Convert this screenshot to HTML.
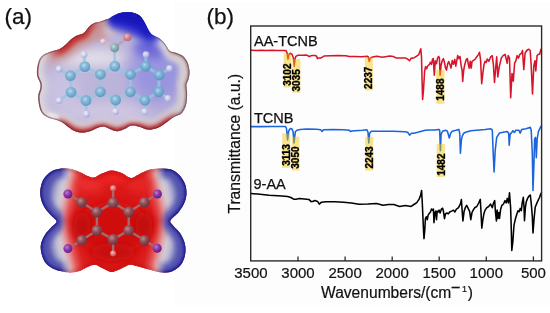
<!DOCTYPE html>
<html><head><meta charset="utf-8"><title>Figure</title>
<style>html,body{margin:0;padding:0;background:#fff;width:550px;height:313px;overflow:hidden}svg{display:block}</style>
</head><body>
<svg width="550" height="313" viewBox="0 0 550 313">
<defs>
<radialGradient id="gC1" cx="0.42" cy="0.38" r="0.66">
<stop offset="0" stop-color="#c0e2f2"/><stop offset="0.3" stop-color="#86bedc"/><stop offset="0.75" stop-color="#62a0c6"/><stop offset="1" stop-color="#4e8cb4"/></radialGradient>
<radialGradient id="gH1" cx="0.38" cy="0.35" r="0.7">
<stop offset="0" stop-color="#f4f4ff"/><stop offset="0.5" stop-color="#d0d0ec"/><stop offset="1" stop-color="#9c9cd0"/></radialGradient>
<radialGradient id="gO1" cx="0.38" cy="0.35" r="0.7">
<stop offset="0" stop-color="#f6c8c8"/><stop offset="0.5" stop-color="#d88080"/><stop offset="1" stop-color="#b06070"/></radialGradient>
<radialGradient id="gCO" cx="0.38" cy="0.35" r="0.7">
<stop offset="0" stop-color="#c8e0dc"/><stop offset="0.5" stop-color="#80aaa8"/><stop offset="1" stop-color="#5e8a90"/></radialGradient>
<radialGradient id="gC2" cx="0.38" cy="0.35" r="0.7">
<stop offset="0" stop-color="#c08a90"/><stop offset="0.45" stop-color="#905058"/><stop offset="1" stop-color="#6a3038"/></radialGradient>
<radialGradient id="gN2" cx="0.38" cy="0.35" r="0.7">
<stop offset="0" stop-color="#b87ad0"/><stop offset="0.5" stop-color="#8a32a8"/><stop offset="1" stop-color="#5e1a7e"/></radialGradient>
<radialGradient id="gH2" cx="0.38" cy="0.35" r="0.7">
<stop offset="0" stop-color="#f8c0c0"/><stop offset="0.6" stop-color="#e07070"/><stop offset="1" stop-color="#c05050"/></radialGradient>

<filter id="b2" x="-20%" y="-20%" width="140%" height="140%"><feGaussianBlur stdDeviation="2"/></filter>
<filter id="b4" x="-30%" y="-30%" width="160%" height="160%"><feGaussianBlur stdDeviation="4"/></filter>
<filter id="b6" x="-30%" y="-30%" width="160%" height="160%"><feGaussianBlur stdDeviation="6"/></filter>
<filter id="b3" x="-30%" y="-30%" width="160%" height="160%"><feGaussianBlur stdDeviation="3"/></filter>
<filter id="b8" x="-40%" y="-40%" width="180%" height="180%"><feGaussianBlur stdDeviation="8"/></filter>
<radialGradient id="lobeUL" gradientUnits="userSpaceOnUse" cx="36.0" cy="186.0" r="34" fx="36.0" fy="186.0"><stop offset="0" stop-color="#10106a"/><stop offset="0.22" stop-color="#1c1c88"/><stop offset="0.42" stop-color="#6a6aae"/><stop offset="0.6" stop-color="#d4d2dc"/><stop offset="0.72" stop-color="#e4a8a8"/><stop offset="0.86" stop-color="#e43030" stop-opacity="0.9"/><stop offset="1" stop-color="#e42626" stop-opacity="0"/></radialGradient>
<radialGradient id="lobeUR" gradientUnits="userSpaceOnUse" cx="190.0" cy="186.0" r="34" fx="190.0" fy="186.0"><stop offset="0" stop-color="#10106a"/><stop offset="0.22" stop-color="#1c1c88"/><stop offset="0.42" stop-color="#6a6aae"/><stop offset="0.6" stop-color="#d4d2dc"/><stop offset="0.72" stop-color="#e4a8a8"/><stop offset="0.86" stop-color="#e43030" stop-opacity="0.9"/><stop offset="1" stop-color="#e42626" stop-opacity="0"/></radialGradient>
<radialGradient id="lobeLL" gradientUnits="userSpaceOnUse" cx="36.0" cy="256.0" r="34" fx="36.0" fy="256.0"><stop offset="0" stop-color="#10106a"/><stop offset="0.22" stop-color="#1c1c88"/><stop offset="0.42" stop-color="#6a6aae"/><stop offset="0.6" stop-color="#d4d2dc"/><stop offset="0.72" stop-color="#e4a8a8"/><stop offset="0.86" stop-color="#e43030" stop-opacity="0.9"/><stop offset="1" stop-color="#e42626" stop-opacity="0"/></radialGradient>
<radialGradient id="lobeLR" gradientUnits="userSpaceOnUse" cx="190.0" cy="256.0" r="34" fx="190.0" fy="256.0"><stop offset="0" stop-color="#10106a"/><stop offset="0.22" stop-color="#1c1c88"/><stop offset="0.42" stop-color="#6a6aae"/><stop offset="0.6" stop-color="#d4d2dc"/><stop offset="0.72" stop-color="#e4a8a8"/><stop offset="0.86" stop-color="#e43030" stop-opacity="0.9"/><stop offset="1" stop-color="#e42626" stop-opacity="0"/></radialGradient>
<radialGradient id="gH1p" cx="0.38" cy="0.35" r="0.7"><stop offset="0" stop-color="#fff0f0"/><stop offset="0.5" stop-color="#e8c8cc"/><stop offset="1" stop-color="#c09aa8"/></radialGradient>
<filter id="b1" x="-20%" y="-20%" width="140%" height="140%"><feGaussianBlur stdDeviation="1"/></filter>
<clipPath id="cm1"><path d="M37.2,68.1 C37.5,65.5 38.2,62.4 39.0,60.4 C39.8,58.4 40.8,57.2 42.0,56.0 C43.2,54.8 44.6,54.1 46.4,53.3 C48.2,52.5 50.7,51.7 52.8,51.0 C54.9,50.3 57.3,50.1 59.2,49.3 C61.1,48.5 62.4,47.4 64.0,46.1 C65.6,44.8 67.2,42.9 68.8,41.4 C70.4,39.9 71.9,38.5 73.5,37.4 C75.1,36.3 76.7,35.7 78.3,35.0 C79.9,34.3 81.8,34.2 83.1,33.4 C84.4,32.6 85.2,31.4 86.3,30.2 C87.4,29.0 88.2,27.4 89.5,26.2 C90.8,25.0 92.4,23.8 94.3,23.0 C96.2,22.2 98.8,22.0 100.7,21.4 C102.6,20.8 104.1,20.2 105.7,19.6 C107.3,19.0 108.6,18.6 110.1,17.9 C111.5,17.2 112.7,16.1 114.4,15.3 C116.1,14.5 118.2,13.4 120.1,12.9 C122.0,12.4 124.0,12.3 125.9,12.2 C127.8,12.1 129.7,12.2 131.6,12.5 C133.5,12.8 135.7,13.4 137.4,14.3 C139.1,15.2 140.4,16.3 141.7,17.9 C143.0,19.5 144.2,21.8 145.3,23.7 C146.4,25.6 147.2,27.7 148.2,29.4 C149.1,31.1 149.9,32.6 151.0,33.7 C152.1,34.8 153.3,35.2 154.6,35.9 C155.9,36.6 157.5,37.1 158.9,38.1 C160.3,39.1 161.9,40.3 163.2,41.7 C164.5,43.1 165.7,45.2 166.8,46.7 C167.9,48.2 168.3,49.9 169.9,51.0 C171.5,52.1 174.3,52.2 176.6,53.1 C178.8,54.0 181.5,54.8 183.4,56.5 C185.3,58.2 186.8,60.6 187.8,63.2 C188.8,65.8 189.4,69.4 189.5,72.0 C189.6,74.6 189.0,76.8 188.5,79.0 C188.0,81.2 186.6,82.5 186.4,85.0 C186.2,87.5 187.2,90.5 187.1,93.7 C187.0,97.0 187.0,101.3 186.1,104.5 C185.2,107.7 183.7,110.9 181.8,112.9 C179.9,114.9 177.2,114.9 174.6,116.5 C172.0,118.1 169.0,120.5 166.2,122.4 C163.4,124.3 160.9,126.5 157.9,127.7 C154.9,128.9 151.5,129.8 148.3,129.6 C145.1,129.4 141.5,127.2 138.7,126.5 C135.9,125.8 133.9,125.1 131.5,125.5 C129.1,125.9 126.8,128.1 124.4,129.0 C122.0,129.9 119.6,131.2 117.2,131.2 C114.8,131.2 112.2,129.8 109.9,129.0 C107.6,128.2 105.6,126.7 103.5,126.5 C101.4,126.3 99.2,127.2 97.1,128.0 C95.0,128.8 93.1,130.2 90.7,131.0 C88.3,131.8 85.4,132.6 82.7,132.6 C80.0,132.6 77.1,131.9 74.7,131.0 C72.3,130.1 70.4,128.4 68.3,127.0 C66.2,125.5 64.1,123.5 62.0,122.3 C59.9,121.1 57.7,120.5 55.6,119.8 C53.5,119.1 51.3,119.0 49.2,118.0 C47.1,117.0 44.4,115.7 42.8,114.0 C41.2,112.3 40.4,110.5 39.6,107.6 C38.8,104.6 38.1,99.5 38.2,96.3 C38.3,93.1 39.9,90.7 40.3,88.6 C40.6,86.5 40.8,85.6 40.3,83.5 C39.8,81.4 37.7,78.4 37.2,75.8 C36.7,73.2 36.9,70.7 37.2,68.1Z"/></clipPath>
<clipPath id="cm2"><path d="M40.5,188.8 C41.0,185.6 41.8,182.1 43.6,179.2 C45.4,176.3 48.4,173.3 51.3,171.5 C54.2,169.7 57.8,168.9 60.9,168.5 C64.0,168.1 66.9,168.2 70.0,168.8 C73.1,169.4 76.7,170.8 79.6,172.0 C82.5,173.2 85.2,175.1 87.6,176.0 C90.0,176.9 91.6,178.0 94.0,177.6 C96.4,177.2 99.0,174.8 101.9,173.6 C104.8,172.4 108.3,170.5 111.5,170.4 C114.7,170.3 117.9,171.6 121.1,172.8 C124.3,174.1 127.8,177.6 130.7,177.9 C133.6,178.2 135.5,175.8 138.7,174.4 C141.9,173.0 146.0,170.6 149.8,169.6 C153.6,168.6 157.9,168.5 161.5,168.5 C165.1,168.5 168.3,168.6 171.2,169.6 C174.1,170.6 176.6,172.3 178.8,174.6 C181.0,176.8 183.3,180.1 184.6,183.1 C185.9,186.1 186.5,189.5 186.5,192.7 C186.5,195.9 185.9,199.1 184.6,202.3 C183.3,205.5 181.2,208.9 178.8,211.9 C176.5,214.9 171.4,218.2 170.5,220.5 C169.6,222.8 171.5,223.3 173.1,225.4 C174.7,227.5 178.1,230.2 180.0,233.1 C181.9,236.0 183.7,239.5 184.6,242.7 C185.5,245.9 185.7,249.1 185.4,252.3 C185.1,255.5 184.1,259.2 182.7,261.9 C181.3,264.6 179.2,266.8 176.9,268.5 C174.7,270.2 172.1,271.7 169.2,272.3 C166.3,272.9 162.8,272.7 159.6,272.3 C156.4,271.9 153.8,270.8 150.0,269.8 C146.2,268.8 140.4,267.1 137.1,266.3 C133.8,265.5 132.6,264.4 129.9,264.8 C127.2,265.2 124.2,267.5 121.1,268.7 C118.0,269.9 114.7,272.0 111.5,271.9 C108.3,271.8 104.7,269.2 101.9,268.0 C99.1,266.8 97.2,264.9 94.8,264.8 C92.4,264.7 90.1,266.1 87.6,267.1 C85.1,268.2 82.2,270.2 79.6,271.1 C77.0,272.0 74.5,272.5 72.0,272.6 C69.5,272.8 67.6,272.5 64.8,272.0 C62.0,271.5 58.3,271.0 55.2,269.6 C52.1,268.2 48.5,266.4 46.3,263.8 C44.0,261.2 42.6,257.4 41.7,254.2 C40.8,251.0 40.4,247.8 40.9,244.6 C41.4,241.4 43.1,237.9 44.8,235.0 C46.5,232.1 49.3,229.6 51.3,227.3 C53.2,225.1 56.5,223.4 56.5,221.5 C56.5,219.6 53.2,218.0 51.3,215.8 C49.3,213.6 46.5,211.0 44.8,208.1 C43.1,205.2 41.6,201.7 40.9,198.5 C40.2,195.3 40.0,192.0 40.5,188.8Z"/></clipPath>
<filter id="b5m" x="-50%" y="-50%" width="200%" height="200%"><feGaussianBlur stdDeviation="5"/></filter>
<mask id="mkTL" maskUnits="userSpaceOnUse" x="0" y="0" width="200" height="160"><polygon points="46,30 50,68 70,62 95,48 112,36 118,24 118,0 46,0" fill="#fff" filter="url(#b5m)"/></mask>
<mask id="mkTL2" maskUnits="userSpaceOnUse" x="0" y="0" width="200" height="160"><polygon points="52,30 56,62 64,58 78,50 90,42 94,30 94,0 52,0" fill="#fff" filter="url(#b5m)"/></mask>
<filter id="b25" x="-10%" y="-10%" width="120%" height="120%"><feGaussianBlur stdDeviation="2.5"/></filter>
<filter id="b05" x="-10%" y="-10%" width="120%" height="120%"><feGaussianBlur stdDeviation="0.6"/></filter>
<mask id="mkBT" maskUnits="userSpaceOnUse" x="0" y="0" width="200" height="160"><polygon points="60,116 72,120 110,123 150,120 178,110 190,118 190,150 58,150" fill="#fff" filter="url(#b5m)"/></mask>
<mask id="mkLF" maskUnits="userSpaceOnUse" x="0" y="0" width="200" height="160"><polygon points="20,60 48,60 48,115 20,115" fill="#fff" filter="url(#b5m)"/></mask>
<mask id="mkRT" maskUnits="userSpaceOnUse" x="0" y="0" width="200" height="160"><polygon points="168,48 200,48 200,118 172,118" fill="#fff" filter="url(#b5m)"/></mask>
</defs>
<rect width="550" height="313" fill="#fff"/>
<rect x="174" y="1.8" width="376" height="303.6" fill="#fdfdfd"/>
<g clip-path="url(#cm1)">
<path d="M37.2,68.1 C37.5,65.5 38.2,62.4 39.0,60.4 C39.8,58.4 40.8,57.2 42.0,56.0 C43.2,54.8 44.6,54.1 46.4,53.3 C48.2,52.5 50.7,51.7 52.8,51.0 C54.9,50.3 57.3,50.1 59.2,49.3 C61.1,48.5 62.4,47.4 64.0,46.1 C65.6,44.8 67.2,42.9 68.8,41.4 C70.4,39.9 71.9,38.5 73.5,37.4 C75.1,36.3 76.7,35.7 78.3,35.0 C79.9,34.3 81.8,34.2 83.1,33.4 C84.4,32.6 85.2,31.4 86.3,30.2 C87.4,29.0 88.2,27.4 89.5,26.2 C90.8,25.0 92.4,23.8 94.3,23.0 C96.2,22.2 98.8,22.0 100.7,21.4 C102.6,20.8 104.1,20.2 105.7,19.6 C107.3,19.0 108.6,18.6 110.1,17.9 C111.5,17.2 112.7,16.1 114.4,15.3 C116.1,14.5 118.2,13.4 120.1,12.9 C122.0,12.4 124.0,12.3 125.9,12.2 C127.8,12.1 129.7,12.2 131.6,12.5 C133.5,12.8 135.7,13.4 137.4,14.3 C139.1,15.2 140.4,16.3 141.7,17.9 C143.0,19.5 144.2,21.8 145.3,23.7 C146.4,25.6 147.2,27.7 148.2,29.4 C149.1,31.1 149.9,32.6 151.0,33.7 C152.1,34.8 153.3,35.2 154.6,35.9 C155.9,36.6 157.5,37.1 158.9,38.1 C160.3,39.1 161.9,40.3 163.2,41.7 C164.5,43.1 165.7,45.2 166.8,46.7 C167.9,48.2 168.3,49.9 169.9,51.0 C171.5,52.1 174.3,52.2 176.6,53.1 C178.8,54.0 181.5,54.8 183.4,56.5 C185.3,58.2 186.8,60.6 187.8,63.2 C188.8,65.8 189.4,69.4 189.5,72.0 C189.6,74.6 189.0,76.8 188.5,79.0 C188.0,81.2 186.6,82.5 186.4,85.0 C186.2,87.5 187.2,90.5 187.1,93.7 C187.0,97.0 187.0,101.3 186.1,104.5 C185.2,107.7 183.7,110.9 181.8,112.9 C179.9,114.9 177.2,114.9 174.6,116.5 C172.0,118.1 169.0,120.5 166.2,122.4 C163.4,124.3 160.9,126.5 157.9,127.7 C154.9,128.9 151.5,129.8 148.3,129.6 C145.1,129.4 141.5,127.2 138.7,126.5 C135.9,125.8 133.9,125.1 131.5,125.5 C129.1,125.9 126.8,128.1 124.4,129.0 C122.0,129.9 119.6,131.2 117.2,131.2 C114.8,131.2 112.2,129.8 109.9,129.0 C107.6,128.2 105.6,126.7 103.5,126.5 C101.4,126.3 99.2,127.2 97.1,128.0 C95.0,128.8 93.1,130.2 90.7,131.0 C88.3,131.8 85.4,132.6 82.7,132.6 C80.0,132.6 77.1,131.9 74.7,131.0 C72.3,130.1 70.4,128.4 68.3,127.0 C66.2,125.5 64.1,123.5 62.0,122.3 C59.9,121.1 57.7,120.5 55.6,119.8 C53.5,119.1 51.3,119.0 49.2,118.0 C47.1,117.0 44.4,115.7 42.8,114.0 C41.2,112.3 40.4,110.5 39.6,107.6 C38.8,104.6 38.1,99.5 38.2,96.3 C38.3,93.1 39.9,90.7 40.3,88.6 C40.6,86.5 40.8,85.6 40.3,83.5 C39.8,81.4 37.7,78.4 37.2,75.8 C36.7,73.2 36.9,70.7 37.2,68.1Z" fill="#bcb5da"/>
<ellipse cx="62" cy="92" rx="18" ry="24" fill="#cac2e2" filter="url(#b8)"/>
<ellipse cx="92" cy="58" rx="36" ry="9" fill="#e2dee8" filter="url(#b6)"/>
<ellipse cx="105" cy="112" rx="45" ry="9" fill="#d0c8e2" filter="url(#b6)"/>
<ellipse cx="158" cy="72" rx="28" ry="32" fill="#9894de" filter="url(#b8)"/>
<ellipse cx="152" cy="48" rx="18" ry="10" fill="#6e6ad8" filter="url(#b4)"/>
<path d="M37.2,68.1 C37.5,65.5 38.2,62.4 39.0,60.4 C39.8,58.4 40.8,57.2 42.0,56.0 C43.2,54.8 44.6,54.1 46.4,53.3 C48.2,52.5 50.7,51.7 52.8,51.0 C54.9,50.3 57.3,50.1 59.2,49.3 C61.1,48.5 62.4,47.4 64.0,46.1 C65.6,44.8 67.2,42.9 68.8,41.4 C70.4,39.9 71.9,38.5 73.5,37.4 C75.1,36.3 76.7,35.7 78.3,35.0 C79.9,34.3 81.8,34.2 83.1,33.4 C84.4,32.6 85.2,31.4 86.3,30.2 C87.4,29.0 88.2,27.4 89.5,26.2 C90.8,25.0 92.4,23.8 94.3,23.0 C96.2,22.2 98.8,22.0 100.7,21.4 C102.6,20.8 104.1,20.2 105.7,19.6 C107.3,19.0 108.6,18.6 110.1,17.9 C111.5,17.2 112.7,16.1 114.4,15.3 C116.1,14.5 118.2,13.4 120.1,12.9 C122.0,12.4 124.0,12.3 125.9,12.2 C127.8,12.1 129.7,12.2 131.6,12.5 C133.5,12.8 135.7,13.4 137.4,14.3 C139.1,15.2 140.4,16.3 141.7,17.9 C143.0,19.5 144.2,21.8 145.3,23.7 C146.4,25.6 147.2,27.7 148.2,29.4 C149.1,31.1 149.9,32.6 151.0,33.7 C152.1,34.8 153.3,35.2 154.6,35.9 C155.9,36.6 157.5,37.1 158.9,38.1 C160.3,39.1 161.9,40.3 163.2,41.7 C164.5,43.1 165.7,45.2 166.8,46.7 C167.9,48.2 168.3,49.9 169.9,51.0 C171.5,52.1 174.3,52.2 176.6,53.1 C178.8,54.0 181.5,54.8 183.4,56.5 C185.3,58.2 186.8,60.6 187.8,63.2 C188.8,65.8 189.4,69.4 189.5,72.0 C189.6,74.6 189.0,76.8 188.5,79.0 C188.0,81.2 186.6,82.5 186.4,85.0 C186.2,87.5 187.2,90.5 187.1,93.7 C187.0,97.0 187.0,101.3 186.1,104.5 C185.2,107.7 183.7,110.9 181.8,112.9 C179.9,114.9 177.2,114.9 174.6,116.5 C172.0,118.1 169.0,120.5 166.2,122.4 C163.4,124.3 160.9,126.5 157.9,127.7 C154.9,128.9 151.5,129.8 148.3,129.6 C145.1,129.4 141.5,127.2 138.7,126.5 C135.9,125.8 133.9,125.1 131.5,125.5 C129.1,125.9 126.8,128.1 124.4,129.0 C122.0,129.9 119.6,131.2 117.2,131.2 C114.8,131.2 112.2,129.8 109.9,129.0 C107.6,128.2 105.6,126.7 103.5,126.5 C101.4,126.3 99.2,127.2 97.1,128.0 C95.0,128.8 93.1,130.2 90.7,131.0 C88.3,131.8 85.4,132.6 82.7,132.6 C80.0,132.6 77.1,131.9 74.7,131.0 C72.3,130.1 70.4,128.4 68.3,127.0 C66.2,125.5 64.1,123.5 62.0,122.3 C59.9,121.1 57.7,120.5 55.6,119.8 C53.5,119.1 51.3,119.0 49.2,118.0 C47.1,117.0 44.4,115.7 42.8,114.0 C41.2,112.3 40.4,110.5 39.6,107.6 C38.8,104.6 38.1,99.5 38.2,96.3 C38.3,93.1 39.9,90.7 40.3,88.6 C40.6,86.5 40.8,85.6 40.3,83.5 C39.8,81.4 37.7,78.4 37.2,75.8 C36.7,73.2 36.9,70.7 37.2,68.1Z" fill="none" stroke="#dcd8dc" stroke-width="13" filter="url(#b3)"/>
<ellipse cx="191" cy="82" rx="9" ry="32" fill="#dcd4d8" filter="url(#b4)"/>
<ellipse cx="180" cy="54" rx="12" ry="6" fill="#dccfd0" filter="url(#b3)"/>
<path d="M84,38 C92,35 100,32 110,27" stroke="#d0a4ac" stroke-width="14" fill="none" filter="url(#b4)"/>
<ellipse cx="100" cy="30" rx="10" ry="8" fill="#c49ca4" filter="url(#b3)"/>
<g mask="url(#mkTL)"><path d="M37.2,68.1 C37.5,65.5 38.2,62.4 39.0,60.4 C39.8,58.4 40.8,57.2 42.0,56.0 C43.2,54.8 44.6,54.1 46.4,53.3 C48.2,52.5 50.7,51.7 52.8,51.0 C54.9,50.3 57.3,50.1 59.2,49.3 C61.1,48.5 62.4,47.4 64.0,46.1 C65.6,44.8 67.2,42.9 68.8,41.4 C70.4,39.9 71.9,38.5 73.5,37.4 C75.1,36.3 76.7,35.7 78.3,35.0 C79.9,34.3 81.8,34.2 83.1,33.4 C84.4,32.6 85.2,31.4 86.3,30.2 C87.4,29.0 88.2,27.4 89.5,26.2 C90.8,25.0 92.4,23.8 94.3,23.0 C96.2,22.2 98.8,22.0 100.7,21.4 C102.6,20.8 104.1,20.2 105.7,19.6 C107.3,19.0 108.6,18.6 110.1,17.9 C111.5,17.2 112.7,16.1 114.4,15.3 C116.1,14.5 118.2,13.4 120.1,12.9 C122.0,12.4 124.0,12.3 125.9,12.2 C127.8,12.1 129.7,12.2 131.6,12.5 C133.5,12.8 135.7,13.4 137.4,14.3 C139.1,15.2 140.4,16.3 141.7,17.9 C143.0,19.5 144.2,21.8 145.3,23.7 C146.4,25.6 147.2,27.7 148.2,29.4 C149.1,31.1 149.9,32.6 151.0,33.7 C152.1,34.8 153.3,35.2 154.6,35.9 C155.9,36.6 157.5,37.1 158.9,38.1 C160.3,39.1 161.9,40.3 163.2,41.7 C164.5,43.1 165.7,45.2 166.8,46.7 C167.9,48.2 168.3,49.9 169.9,51.0 C171.5,52.1 174.3,52.2 176.6,53.1 C178.8,54.0 181.5,54.8 183.4,56.5 C185.3,58.2 186.8,60.6 187.8,63.2 C188.8,65.8 189.4,69.4 189.5,72.0 C189.6,74.6 189.0,76.8 188.5,79.0 C188.0,81.2 186.6,82.5 186.4,85.0 C186.2,87.5 187.2,90.5 187.1,93.7 C187.0,97.0 187.0,101.3 186.1,104.5 C185.2,107.7 183.7,110.9 181.8,112.9 C179.9,114.9 177.2,114.9 174.6,116.5 C172.0,118.1 169.0,120.5 166.2,122.4 C163.4,124.3 160.9,126.5 157.9,127.7 C154.9,128.9 151.5,129.8 148.3,129.6 C145.1,129.4 141.5,127.2 138.7,126.5 C135.9,125.8 133.9,125.1 131.5,125.5 C129.1,125.9 126.8,128.1 124.4,129.0 C122.0,129.9 119.6,131.2 117.2,131.2 C114.8,131.2 112.2,129.8 109.9,129.0 C107.6,128.2 105.6,126.7 103.5,126.5 C101.4,126.3 99.2,127.2 97.1,128.0 C95.0,128.8 93.1,130.2 90.7,131.0 C88.3,131.8 85.4,132.6 82.7,132.6 C80.0,132.6 77.1,131.9 74.7,131.0 C72.3,130.1 70.4,128.4 68.3,127.0 C66.2,125.5 64.1,123.5 62.0,122.3 C59.9,121.1 57.7,120.5 55.6,119.8 C53.5,119.1 51.3,119.0 49.2,118.0 C47.1,117.0 44.4,115.7 42.8,114.0 C41.2,112.3 40.4,110.5 39.6,107.6 C38.8,104.6 38.1,99.5 38.2,96.3 C38.3,93.1 39.9,90.7 40.3,88.6 C40.6,86.5 40.8,85.6 40.3,83.5 C39.8,81.4 37.7,78.4 37.2,75.8 C36.7,73.2 36.9,70.7 37.2,68.1Z" fill="none" stroke="#c89498" stroke-width="26" filter="url(#b4)"/></g>
<ellipse cx="110" cy="30" rx="6" ry="6" fill="#d4ccd8" filter="url(#b3)"/>
<g mask="url(#mkTL2)"><path d="M37.2,68.1 C37.5,65.5 38.2,62.4 39.0,60.4 C39.8,58.4 40.8,57.2 42.0,56.0 C43.2,54.8 44.6,54.1 46.4,53.3 C48.2,52.5 50.7,51.7 52.8,51.0 C54.9,50.3 57.3,50.1 59.2,49.3 C61.1,48.5 62.4,47.4 64.0,46.1 C65.6,44.8 67.2,42.9 68.8,41.4 C70.4,39.9 71.9,38.5 73.5,37.4 C75.1,36.3 76.7,35.7 78.3,35.0 C79.9,34.3 81.8,34.2 83.1,33.4 C84.4,32.6 85.2,31.4 86.3,30.2 C87.4,29.0 88.2,27.4 89.5,26.2 C90.8,25.0 92.4,23.8 94.3,23.0 C96.2,22.2 98.8,22.0 100.7,21.4 C102.6,20.8 104.1,20.2 105.7,19.6 C107.3,19.0 108.6,18.6 110.1,17.9 C111.5,17.2 112.7,16.1 114.4,15.3 C116.1,14.5 118.2,13.4 120.1,12.9 C122.0,12.4 124.0,12.3 125.9,12.2 C127.8,12.1 129.7,12.2 131.6,12.5 C133.5,12.8 135.7,13.4 137.4,14.3 C139.1,15.2 140.4,16.3 141.7,17.9 C143.0,19.5 144.2,21.8 145.3,23.7 C146.4,25.6 147.2,27.7 148.2,29.4 C149.1,31.1 149.9,32.6 151.0,33.7 C152.1,34.8 153.3,35.2 154.6,35.9 C155.9,36.6 157.5,37.1 158.9,38.1 C160.3,39.1 161.9,40.3 163.2,41.7 C164.5,43.1 165.7,45.2 166.8,46.7 C167.9,48.2 168.3,49.9 169.9,51.0 C171.5,52.1 174.3,52.2 176.6,53.1 C178.8,54.0 181.5,54.8 183.4,56.5 C185.3,58.2 186.8,60.6 187.8,63.2 C188.8,65.8 189.4,69.4 189.5,72.0 C189.6,74.6 189.0,76.8 188.5,79.0 C188.0,81.2 186.6,82.5 186.4,85.0 C186.2,87.5 187.2,90.5 187.1,93.7 C187.0,97.0 187.0,101.3 186.1,104.5 C185.2,107.7 183.7,110.9 181.8,112.9 C179.9,114.9 177.2,114.9 174.6,116.5 C172.0,118.1 169.0,120.5 166.2,122.4 C163.4,124.3 160.9,126.5 157.9,127.7 C154.9,128.9 151.5,129.8 148.3,129.6 C145.1,129.4 141.5,127.2 138.7,126.5 C135.9,125.8 133.9,125.1 131.5,125.5 C129.1,125.9 126.8,128.1 124.4,129.0 C122.0,129.9 119.6,131.2 117.2,131.2 C114.8,131.2 112.2,129.8 109.9,129.0 C107.6,128.2 105.6,126.7 103.5,126.5 C101.4,126.3 99.2,127.2 97.1,128.0 C95.0,128.8 93.1,130.2 90.7,131.0 C88.3,131.8 85.4,132.6 82.7,132.6 C80.0,132.6 77.1,131.9 74.7,131.0 C72.3,130.1 70.4,128.4 68.3,127.0 C66.2,125.5 64.1,123.5 62.0,122.3 C59.9,121.1 57.7,120.5 55.6,119.8 C53.5,119.1 51.3,119.0 49.2,118.0 C47.1,117.0 44.4,115.7 42.8,114.0 C41.2,112.3 40.4,110.5 39.6,107.6 C38.8,104.6 38.1,99.5 38.2,96.3 C38.3,93.1 39.9,90.7 40.3,88.6 C40.6,86.5 40.8,85.6 40.3,83.5 C39.8,81.4 37.7,78.4 37.2,75.8 C36.7,73.2 36.9,70.7 37.2,68.1Z" fill="none" stroke="#c42c2c" stroke-width="12" filter="url(#b25)"/></g>
<g mask="url(#mkBT)"><path d="M37.2,68.1 C37.5,65.5 38.2,62.4 39.0,60.4 C39.8,58.4 40.8,57.2 42.0,56.0 C43.2,54.8 44.6,54.1 46.4,53.3 C48.2,52.5 50.7,51.7 52.8,51.0 C54.9,50.3 57.3,50.1 59.2,49.3 C61.1,48.5 62.4,47.4 64.0,46.1 C65.6,44.8 67.2,42.9 68.8,41.4 C70.4,39.9 71.9,38.5 73.5,37.4 C75.1,36.3 76.7,35.7 78.3,35.0 C79.9,34.3 81.8,34.2 83.1,33.4 C84.4,32.6 85.2,31.4 86.3,30.2 C87.4,29.0 88.2,27.4 89.5,26.2 C90.8,25.0 92.4,23.8 94.3,23.0 C96.2,22.2 98.8,22.0 100.7,21.4 C102.6,20.8 104.1,20.2 105.7,19.6 C107.3,19.0 108.6,18.6 110.1,17.9 C111.5,17.2 112.7,16.1 114.4,15.3 C116.1,14.5 118.2,13.4 120.1,12.9 C122.0,12.4 124.0,12.3 125.9,12.2 C127.8,12.1 129.7,12.2 131.6,12.5 C133.5,12.8 135.7,13.4 137.4,14.3 C139.1,15.2 140.4,16.3 141.7,17.9 C143.0,19.5 144.2,21.8 145.3,23.7 C146.4,25.6 147.2,27.7 148.2,29.4 C149.1,31.1 149.9,32.6 151.0,33.7 C152.1,34.8 153.3,35.2 154.6,35.9 C155.9,36.6 157.5,37.1 158.9,38.1 C160.3,39.1 161.9,40.3 163.2,41.7 C164.5,43.1 165.7,45.2 166.8,46.7 C167.9,48.2 168.3,49.9 169.9,51.0 C171.5,52.1 174.3,52.2 176.6,53.1 C178.8,54.0 181.5,54.8 183.4,56.5 C185.3,58.2 186.8,60.6 187.8,63.2 C188.8,65.8 189.4,69.4 189.5,72.0 C189.6,74.6 189.0,76.8 188.5,79.0 C188.0,81.2 186.6,82.5 186.4,85.0 C186.2,87.5 187.2,90.5 187.1,93.7 C187.0,97.0 187.0,101.3 186.1,104.5 C185.2,107.7 183.7,110.9 181.8,112.9 C179.9,114.9 177.2,114.9 174.6,116.5 C172.0,118.1 169.0,120.5 166.2,122.4 C163.4,124.3 160.9,126.5 157.9,127.7 C154.9,128.9 151.5,129.8 148.3,129.6 C145.1,129.4 141.5,127.2 138.7,126.5 C135.9,125.8 133.9,125.1 131.5,125.5 C129.1,125.9 126.8,128.1 124.4,129.0 C122.0,129.9 119.6,131.2 117.2,131.2 C114.8,131.2 112.2,129.8 109.9,129.0 C107.6,128.2 105.6,126.7 103.5,126.5 C101.4,126.3 99.2,127.2 97.1,128.0 C95.0,128.8 93.1,130.2 90.7,131.0 C88.3,131.8 85.4,132.6 82.7,132.6 C80.0,132.6 77.1,131.9 74.7,131.0 C72.3,130.1 70.4,128.4 68.3,127.0 C66.2,125.5 64.1,123.5 62.0,122.3 C59.9,121.1 57.7,120.5 55.6,119.8 C53.5,119.1 51.3,119.0 49.2,118.0 C47.1,117.0 44.4,115.7 42.8,114.0 C41.2,112.3 40.4,110.5 39.6,107.6 C38.8,104.6 38.1,99.5 38.2,96.3 C38.3,93.1 39.9,90.7 40.3,88.6 C40.6,86.5 40.8,85.6 40.3,83.5 C39.8,81.4 37.7,78.4 37.2,75.8 C36.7,73.2 36.9,70.7 37.2,68.1Z" fill="none" stroke="#d8ccd0" stroke-width="22" filter="url(#b3)"/></g>
<g mask="url(#mkBT)"><path d="M37.2,68.1 C37.5,65.5 38.2,62.4 39.0,60.4 C39.8,58.4 40.8,57.2 42.0,56.0 C43.2,54.8 44.6,54.1 46.4,53.3 C48.2,52.5 50.7,51.7 52.8,51.0 C54.9,50.3 57.3,50.1 59.2,49.3 C61.1,48.5 62.4,47.4 64.0,46.1 C65.6,44.8 67.2,42.9 68.8,41.4 C70.4,39.9 71.9,38.5 73.5,37.4 C75.1,36.3 76.7,35.7 78.3,35.0 C79.9,34.3 81.8,34.2 83.1,33.4 C84.4,32.6 85.2,31.4 86.3,30.2 C87.4,29.0 88.2,27.4 89.5,26.2 C90.8,25.0 92.4,23.8 94.3,23.0 C96.2,22.2 98.8,22.0 100.7,21.4 C102.6,20.8 104.1,20.2 105.7,19.6 C107.3,19.0 108.6,18.6 110.1,17.9 C111.5,17.2 112.7,16.1 114.4,15.3 C116.1,14.5 118.2,13.4 120.1,12.9 C122.0,12.4 124.0,12.3 125.9,12.2 C127.8,12.1 129.7,12.2 131.6,12.5 C133.5,12.8 135.7,13.4 137.4,14.3 C139.1,15.2 140.4,16.3 141.7,17.9 C143.0,19.5 144.2,21.8 145.3,23.7 C146.4,25.6 147.2,27.7 148.2,29.4 C149.1,31.1 149.9,32.6 151.0,33.7 C152.1,34.8 153.3,35.2 154.6,35.9 C155.9,36.6 157.5,37.1 158.9,38.1 C160.3,39.1 161.9,40.3 163.2,41.7 C164.5,43.1 165.7,45.2 166.8,46.7 C167.9,48.2 168.3,49.9 169.9,51.0 C171.5,52.1 174.3,52.2 176.6,53.1 C178.8,54.0 181.5,54.8 183.4,56.5 C185.3,58.2 186.8,60.6 187.8,63.2 C188.8,65.8 189.4,69.4 189.5,72.0 C189.6,74.6 189.0,76.8 188.5,79.0 C188.0,81.2 186.6,82.5 186.4,85.0 C186.2,87.5 187.2,90.5 187.1,93.7 C187.0,97.0 187.0,101.3 186.1,104.5 C185.2,107.7 183.7,110.9 181.8,112.9 C179.9,114.9 177.2,114.9 174.6,116.5 C172.0,118.1 169.0,120.5 166.2,122.4 C163.4,124.3 160.9,126.5 157.9,127.7 C154.9,128.9 151.5,129.8 148.3,129.6 C145.1,129.4 141.5,127.2 138.7,126.5 C135.9,125.8 133.9,125.1 131.5,125.5 C129.1,125.9 126.8,128.1 124.4,129.0 C122.0,129.9 119.6,131.2 117.2,131.2 C114.8,131.2 112.2,129.8 109.9,129.0 C107.6,128.2 105.6,126.7 103.5,126.5 C101.4,126.3 99.2,127.2 97.1,128.0 C95.0,128.8 93.1,130.2 90.7,131.0 C88.3,131.8 85.4,132.6 82.7,132.6 C80.0,132.6 77.1,131.9 74.7,131.0 C72.3,130.1 70.4,128.4 68.3,127.0 C66.2,125.5 64.1,123.5 62.0,122.3 C59.9,121.1 57.7,120.5 55.6,119.8 C53.5,119.1 51.3,119.0 49.2,118.0 C47.1,117.0 44.4,115.7 42.8,114.0 C41.2,112.3 40.4,110.5 39.6,107.6 C38.8,104.6 38.1,99.5 38.2,96.3 C38.3,93.1 39.9,90.7 40.3,88.6 C40.6,86.5 40.8,85.6 40.3,83.5 C39.8,81.4 37.7,78.4 37.2,75.8 C36.7,73.2 36.9,70.7 37.2,68.1Z" fill="none" stroke="#c46066" stroke-width="10" filter="url(#b2)"/></g>
<g mask="url(#mkBT)"><path d="M37.2,68.1 C37.5,65.5 38.2,62.4 39.0,60.4 C39.8,58.4 40.8,57.2 42.0,56.0 C43.2,54.8 44.6,54.1 46.4,53.3 C48.2,52.5 50.7,51.7 52.8,51.0 C54.9,50.3 57.3,50.1 59.2,49.3 C61.1,48.5 62.4,47.4 64.0,46.1 C65.6,44.8 67.2,42.9 68.8,41.4 C70.4,39.9 71.9,38.5 73.5,37.4 C75.1,36.3 76.7,35.7 78.3,35.0 C79.9,34.3 81.8,34.2 83.1,33.4 C84.4,32.6 85.2,31.4 86.3,30.2 C87.4,29.0 88.2,27.4 89.5,26.2 C90.8,25.0 92.4,23.8 94.3,23.0 C96.2,22.2 98.8,22.0 100.7,21.4 C102.6,20.8 104.1,20.2 105.7,19.6 C107.3,19.0 108.6,18.6 110.1,17.9 C111.5,17.2 112.7,16.1 114.4,15.3 C116.1,14.5 118.2,13.4 120.1,12.9 C122.0,12.4 124.0,12.3 125.9,12.2 C127.8,12.1 129.7,12.2 131.6,12.5 C133.5,12.8 135.7,13.4 137.4,14.3 C139.1,15.2 140.4,16.3 141.7,17.9 C143.0,19.5 144.2,21.8 145.3,23.7 C146.4,25.6 147.2,27.7 148.2,29.4 C149.1,31.1 149.9,32.6 151.0,33.7 C152.1,34.8 153.3,35.2 154.6,35.9 C155.9,36.6 157.5,37.1 158.9,38.1 C160.3,39.1 161.9,40.3 163.2,41.7 C164.5,43.1 165.7,45.2 166.8,46.7 C167.9,48.2 168.3,49.9 169.9,51.0 C171.5,52.1 174.3,52.2 176.6,53.1 C178.8,54.0 181.5,54.8 183.4,56.5 C185.3,58.2 186.8,60.6 187.8,63.2 C188.8,65.8 189.4,69.4 189.5,72.0 C189.6,74.6 189.0,76.8 188.5,79.0 C188.0,81.2 186.6,82.5 186.4,85.0 C186.2,87.5 187.2,90.5 187.1,93.7 C187.0,97.0 187.0,101.3 186.1,104.5 C185.2,107.7 183.7,110.9 181.8,112.9 C179.9,114.9 177.2,114.9 174.6,116.5 C172.0,118.1 169.0,120.5 166.2,122.4 C163.4,124.3 160.9,126.5 157.9,127.7 C154.9,128.9 151.5,129.8 148.3,129.6 C145.1,129.4 141.5,127.2 138.7,126.5 C135.9,125.8 133.9,125.1 131.5,125.5 C129.1,125.9 126.8,128.1 124.4,129.0 C122.0,129.9 119.6,131.2 117.2,131.2 C114.8,131.2 112.2,129.8 109.9,129.0 C107.6,128.2 105.6,126.7 103.5,126.5 C101.4,126.3 99.2,127.2 97.1,128.0 C95.0,128.8 93.1,130.2 90.7,131.0 C88.3,131.8 85.4,132.6 82.7,132.6 C80.0,132.6 77.1,131.9 74.7,131.0 C72.3,130.1 70.4,128.4 68.3,127.0 C66.2,125.5 64.1,123.5 62.0,122.3 C59.9,121.1 57.7,120.5 55.6,119.8 C53.5,119.1 51.3,119.0 49.2,118.0 C47.1,117.0 44.4,115.7 42.8,114.0 C41.2,112.3 40.4,110.5 39.6,107.6 C38.8,104.6 38.1,99.5 38.2,96.3 C38.3,93.1 39.9,90.7 40.3,88.6 C40.6,86.5 40.8,85.6 40.3,83.5 C39.8,81.4 37.7,78.4 37.2,75.8 C36.7,73.2 36.9,70.7 37.2,68.1Z" fill="none" stroke="#b03036" stroke-width="5" filter="url(#b1)"/></g>
<g mask="url(#mkLF)"><path d="M37.2,68.1 C37.5,65.5 38.2,62.4 39.0,60.4 C39.8,58.4 40.8,57.2 42.0,56.0 C43.2,54.8 44.6,54.1 46.4,53.3 C48.2,52.5 50.7,51.7 52.8,51.0 C54.9,50.3 57.3,50.1 59.2,49.3 C61.1,48.5 62.4,47.4 64.0,46.1 C65.6,44.8 67.2,42.9 68.8,41.4 C70.4,39.9 71.9,38.5 73.5,37.4 C75.1,36.3 76.7,35.7 78.3,35.0 C79.9,34.3 81.8,34.2 83.1,33.4 C84.4,32.6 85.2,31.4 86.3,30.2 C87.4,29.0 88.2,27.4 89.5,26.2 C90.8,25.0 92.4,23.8 94.3,23.0 C96.2,22.2 98.8,22.0 100.7,21.4 C102.6,20.8 104.1,20.2 105.7,19.6 C107.3,19.0 108.6,18.6 110.1,17.9 C111.5,17.2 112.7,16.1 114.4,15.3 C116.1,14.5 118.2,13.4 120.1,12.9 C122.0,12.4 124.0,12.3 125.9,12.2 C127.8,12.1 129.7,12.2 131.6,12.5 C133.5,12.8 135.7,13.4 137.4,14.3 C139.1,15.2 140.4,16.3 141.7,17.9 C143.0,19.5 144.2,21.8 145.3,23.7 C146.4,25.6 147.2,27.7 148.2,29.4 C149.1,31.1 149.9,32.6 151.0,33.7 C152.1,34.8 153.3,35.2 154.6,35.9 C155.9,36.6 157.5,37.1 158.9,38.1 C160.3,39.1 161.9,40.3 163.2,41.7 C164.5,43.1 165.7,45.2 166.8,46.7 C167.9,48.2 168.3,49.9 169.9,51.0 C171.5,52.1 174.3,52.2 176.6,53.1 C178.8,54.0 181.5,54.8 183.4,56.5 C185.3,58.2 186.8,60.6 187.8,63.2 C188.8,65.8 189.4,69.4 189.5,72.0 C189.6,74.6 189.0,76.8 188.5,79.0 C188.0,81.2 186.6,82.5 186.4,85.0 C186.2,87.5 187.2,90.5 187.1,93.7 C187.0,97.0 187.0,101.3 186.1,104.5 C185.2,107.7 183.7,110.9 181.8,112.9 C179.9,114.9 177.2,114.9 174.6,116.5 C172.0,118.1 169.0,120.5 166.2,122.4 C163.4,124.3 160.9,126.5 157.9,127.7 C154.9,128.9 151.5,129.8 148.3,129.6 C145.1,129.4 141.5,127.2 138.7,126.5 C135.9,125.8 133.9,125.1 131.5,125.5 C129.1,125.9 126.8,128.1 124.4,129.0 C122.0,129.9 119.6,131.2 117.2,131.2 C114.8,131.2 112.2,129.8 109.9,129.0 C107.6,128.2 105.6,126.7 103.5,126.5 C101.4,126.3 99.2,127.2 97.1,128.0 C95.0,128.8 93.1,130.2 90.7,131.0 C88.3,131.8 85.4,132.6 82.7,132.6 C80.0,132.6 77.1,131.9 74.7,131.0 C72.3,130.1 70.4,128.4 68.3,127.0 C66.2,125.5 64.1,123.5 62.0,122.3 C59.9,121.1 57.7,120.5 55.6,119.8 C53.5,119.1 51.3,119.0 49.2,118.0 C47.1,117.0 44.4,115.7 42.8,114.0 C41.2,112.3 40.4,110.5 39.6,107.6 C38.8,104.6 38.1,99.5 38.2,96.3 C38.3,93.1 39.9,90.7 40.3,88.6 C40.6,86.5 40.8,85.6 40.3,83.5 C39.8,81.4 37.7,78.4 37.2,75.8 C36.7,73.2 36.9,70.7 37.2,68.1Z" fill="none" stroke="#a86a70" stroke-width="3" filter="url(#b05)"/></g>
<g mask="url(#mkRT)"><path d="M37.2,68.1 C37.5,65.5 38.2,62.4 39.0,60.4 C39.8,58.4 40.8,57.2 42.0,56.0 C43.2,54.8 44.6,54.1 46.4,53.3 C48.2,52.5 50.7,51.7 52.8,51.0 C54.9,50.3 57.3,50.1 59.2,49.3 C61.1,48.5 62.4,47.4 64.0,46.1 C65.6,44.8 67.2,42.9 68.8,41.4 C70.4,39.9 71.9,38.5 73.5,37.4 C75.1,36.3 76.7,35.7 78.3,35.0 C79.9,34.3 81.8,34.2 83.1,33.4 C84.4,32.6 85.2,31.4 86.3,30.2 C87.4,29.0 88.2,27.4 89.5,26.2 C90.8,25.0 92.4,23.8 94.3,23.0 C96.2,22.2 98.8,22.0 100.7,21.4 C102.6,20.8 104.1,20.2 105.7,19.6 C107.3,19.0 108.6,18.6 110.1,17.9 C111.5,17.2 112.7,16.1 114.4,15.3 C116.1,14.5 118.2,13.4 120.1,12.9 C122.0,12.4 124.0,12.3 125.9,12.2 C127.8,12.1 129.7,12.2 131.6,12.5 C133.5,12.8 135.7,13.4 137.4,14.3 C139.1,15.2 140.4,16.3 141.7,17.9 C143.0,19.5 144.2,21.8 145.3,23.7 C146.4,25.6 147.2,27.7 148.2,29.4 C149.1,31.1 149.9,32.6 151.0,33.7 C152.1,34.8 153.3,35.2 154.6,35.9 C155.9,36.6 157.5,37.1 158.9,38.1 C160.3,39.1 161.9,40.3 163.2,41.7 C164.5,43.1 165.7,45.2 166.8,46.7 C167.9,48.2 168.3,49.9 169.9,51.0 C171.5,52.1 174.3,52.2 176.6,53.1 C178.8,54.0 181.5,54.8 183.4,56.5 C185.3,58.2 186.8,60.6 187.8,63.2 C188.8,65.8 189.4,69.4 189.5,72.0 C189.6,74.6 189.0,76.8 188.5,79.0 C188.0,81.2 186.6,82.5 186.4,85.0 C186.2,87.5 187.2,90.5 187.1,93.7 C187.0,97.0 187.0,101.3 186.1,104.5 C185.2,107.7 183.7,110.9 181.8,112.9 C179.9,114.9 177.2,114.9 174.6,116.5 C172.0,118.1 169.0,120.5 166.2,122.4 C163.4,124.3 160.9,126.5 157.9,127.7 C154.9,128.9 151.5,129.8 148.3,129.6 C145.1,129.4 141.5,127.2 138.7,126.5 C135.9,125.8 133.9,125.1 131.5,125.5 C129.1,125.9 126.8,128.1 124.4,129.0 C122.0,129.9 119.6,131.2 117.2,131.2 C114.8,131.2 112.2,129.8 109.9,129.0 C107.6,128.2 105.6,126.7 103.5,126.5 C101.4,126.3 99.2,127.2 97.1,128.0 C95.0,128.8 93.1,130.2 90.7,131.0 C88.3,131.8 85.4,132.6 82.7,132.6 C80.0,132.6 77.1,131.9 74.7,131.0 C72.3,130.1 70.4,128.4 68.3,127.0 C66.2,125.5 64.1,123.5 62.0,122.3 C59.9,121.1 57.7,120.5 55.6,119.8 C53.5,119.1 51.3,119.0 49.2,118.0 C47.1,117.0 44.4,115.7 42.8,114.0 C41.2,112.3 40.4,110.5 39.6,107.6 C38.8,104.6 38.1,99.5 38.2,96.3 C38.3,93.1 39.9,90.7 40.3,88.6 C40.6,86.5 40.8,85.6 40.3,83.5 C39.8,81.4 37.7,78.4 37.2,75.8 C36.7,73.2 36.9,70.7 37.2,68.1Z" fill="none" stroke="#d2cacf" stroke-width="16" filter="url(#b3)"/></g>
<g mask="url(#mkRT)"><path d="M37.2,68.1 C37.5,65.5 38.2,62.4 39.0,60.4 C39.8,58.4 40.8,57.2 42.0,56.0 C43.2,54.8 44.6,54.1 46.4,53.3 C48.2,52.5 50.7,51.7 52.8,51.0 C54.9,50.3 57.3,50.1 59.2,49.3 C61.1,48.5 62.4,47.4 64.0,46.1 C65.6,44.8 67.2,42.9 68.8,41.4 C70.4,39.9 71.9,38.5 73.5,37.4 C75.1,36.3 76.7,35.7 78.3,35.0 C79.9,34.3 81.8,34.2 83.1,33.4 C84.4,32.6 85.2,31.4 86.3,30.2 C87.4,29.0 88.2,27.4 89.5,26.2 C90.8,25.0 92.4,23.8 94.3,23.0 C96.2,22.2 98.8,22.0 100.7,21.4 C102.6,20.8 104.1,20.2 105.7,19.6 C107.3,19.0 108.6,18.6 110.1,17.9 C111.5,17.2 112.7,16.1 114.4,15.3 C116.1,14.5 118.2,13.4 120.1,12.9 C122.0,12.4 124.0,12.3 125.9,12.2 C127.8,12.1 129.7,12.2 131.6,12.5 C133.5,12.8 135.7,13.4 137.4,14.3 C139.1,15.2 140.4,16.3 141.7,17.9 C143.0,19.5 144.2,21.8 145.3,23.7 C146.4,25.6 147.2,27.7 148.2,29.4 C149.1,31.1 149.9,32.6 151.0,33.7 C152.1,34.8 153.3,35.2 154.6,35.9 C155.9,36.6 157.5,37.1 158.9,38.1 C160.3,39.1 161.9,40.3 163.2,41.7 C164.5,43.1 165.7,45.2 166.8,46.7 C167.9,48.2 168.3,49.9 169.9,51.0 C171.5,52.1 174.3,52.2 176.6,53.1 C178.8,54.0 181.5,54.8 183.4,56.5 C185.3,58.2 186.8,60.6 187.8,63.2 C188.8,65.8 189.4,69.4 189.5,72.0 C189.6,74.6 189.0,76.8 188.5,79.0 C188.0,81.2 186.6,82.5 186.4,85.0 C186.2,87.5 187.2,90.5 187.1,93.7 C187.0,97.0 187.0,101.3 186.1,104.5 C185.2,107.7 183.7,110.9 181.8,112.9 C179.9,114.9 177.2,114.9 174.6,116.5 C172.0,118.1 169.0,120.5 166.2,122.4 C163.4,124.3 160.9,126.5 157.9,127.7 C154.9,128.9 151.5,129.8 148.3,129.6 C145.1,129.4 141.5,127.2 138.7,126.5 C135.9,125.8 133.9,125.1 131.5,125.5 C129.1,125.9 126.8,128.1 124.4,129.0 C122.0,129.9 119.6,131.2 117.2,131.2 C114.8,131.2 112.2,129.8 109.9,129.0 C107.6,128.2 105.6,126.7 103.5,126.5 C101.4,126.3 99.2,127.2 97.1,128.0 C95.0,128.8 93.1,130.2 90.7,131.0 C88.3,131.8 85.4,132.6 82.7,132.6 C80.0,132.6 77.1,131.9 74.7,131.0 C72.3,130.1 70.4,128.4 68.3,127.0 C66.2,125.5 64.1,123.5 62.0,122.3 C59.9,121.1 57.7,120.5 55.6,119.8 C53.5,119.1 51.3,119.0 49.2,118.0 C47.1,117.0 44.4,115.7 42.8,114.0 C41.2,112.3 40.4,110.5 39.6,107.6 C38.8,104.6 38.1,99.5 38.2,96.3 C38.3,93.1 39.9,90.7 40.3,88.6 C40.6,86.5 40.8,85.6 40.3,83.5 C39.8,81.4 37.7,78.4 37.2,75.8 C36.7,73.2 36.9,70.7 37.2,68.1Z" fill="none" stroke="#a08080" stroke-width="4" filter="url(#b1)"/></g>
<ellipse cx="53" cy="115.5" rx="6.5" ry="2" fill="#eee6e6" transform="rotate(15 53 115.5)" filter="url(#b1)"/>
<path d="M37.2,68.1 C37.5,65.5 38.2,62.4 39.0,60.4 C39.8,58.4 40.8,57.2 42.0,56.0 C43.2,54.8 44.6,54.1 46.4,53.3 C48.2,52.5 50.7,51.7 52.8,51.0 C54.9,50.3 57.3,50.1 59.2,49.3 C61.1,48.5 62.4,47.4 64.0,46.1 C65.6,44.8 67.2,42.9 68.8,41.4 C70.4,39.9 71.9,38.5 73.5,37.4 C75.1,36.3 76.7,35.7 78.3,35.0 C79.9,34.3 81.8,34.2 83.1,33.4 C84.4,32.6 85.2,31.4 86.3,30.2 C87.4,29.0 88.2,27.4 89.5,26.2 C90.8,25.0 92.4,23.8 94.3,23.0 C96.2,22.2 98.8,22.0 100.7,21.4 C102.6,20.8 104.1,20.2 105.7,19.6 C107.3,19.0 108.6,18.6 110.1,17.9 C111.5,17.2 112.7,16.1 114.4,15.3 C116.1,14.5 118.2,13.4 120.1,12.9 C122.0,12.4 124.0,12.3 125.9,12.2 C127.8,12.1 129.7,12.2 131.6,12.5 C133.5,12.8 135.7,13.4 137.4,14.3 C139.1,15.2 140.4,16.3 141.7,17.9 C143.0,19.5 144.2,21.8 145.3,23.7 C146.4,25.6 147.2,27.7 148.2,29.4 C149.1,31.1 149.9,32.6 151.0,33.7 C152.1,34.8 153.3,35.2 154.6,35.9 C155.9,36.6 157.5,37.1 158.9,38.1 C160.3,39.1 161.9,40.3 163.2,41.7 C164.5,43.1 165.7,45.2 166.8,46.7 C167.9,48.2 168.3,49.9 169.9,51.0 C171.5,52.1 174.3,52.2 176.6,53.1 C178.8,54.0 181.5,54.8 183.4,56.5 C185.3,58.2 186.8,60.6 187.8,63.2 C188.8,65.8 189.4,69.4 189.5,72.0 C189.6,74.6 189.0,76.8 188.5,79.0 C188.0,81.2 186.6,82.5 186.4,85.0 C186.2,87.5 187.2,90.5 187.1,93.7 C187.0,97.0 187.0,101.3 186.1,104.5 C185.2,107.7 183.7,110.9 181.8,112.9 C179.9,114.9 177.2,114.9 174.6,116.5 C172.0,118.1 169.0,120.5 166.2,122.4 C163.4,124.3 160.9,126.5 157.9,127.7 C154.9,128.9 151.5,129.8 148.3,129.6 C145.1,129.4 141.5,127.2 138.7,126.5 C135.9,125.8 133.9,125.1 131.5,125.5 C129.1,125.9 126.8,128.1 124.4,129.0 C122.0,129.9 119.6,131.2 117.2,131.2 C114.8,131.2 112.2,129.8 109.9,129.0 C107.6,128.2 105.6,126.7 103.5,126.5 C101.4,126.3 99.2,127.2 97.1,128.0 C95.0,128.8 93.1,130.2 90.7,131.0 C88.3,131.8 85.4,132.6 82.7,132.6 C80.0,132.6 77.1,131.9 74.7,131.0 C72.3,130.1 70.4,128.4 68.3,127.0 C66.2,125.5 64.1,123.5 62.0,122.3 C59.9,121.1 57.7,120.5 55.6,119.8 C53.5,119.1 51.3,119.0 49.2,118.0 C47.1,117.0 44.4,115.7 42.8,114.0 C41.2,112.3 40.4,110.5 39.6,107.6 C38.8,104.6 38.1,99.5 38.2,96.3 C38.3,93.1 39.9,90.7 40.3,88.6 C40.6,86.5 40.8,85.6 40.3,83.5 C39.8,81.4 37.7,78.4 37.2,75.8 C36.7,73.2 36.9,70.7 37.2,68.1Z" fill="none" stroke="#5a2a3a" stroke-opacity="0.5" stroke-width="2" filter="url(#b05)"/>
<path d="M104,6 L156,6 L160,40 L150,46 L138,38 L124,32 L110,28 Z" fill="#3c3cd0" filter="url(#b3)"/>
<path d="M108,4 L152,4 L156,34 L148,38 L134,28 L120,24 L110,22 Z" fill="#1a1ac0" filter="url(#b2)"/>
<path d="M114,8 L150,8 L152,26 L140,22 L126,18 L116,16 Z" fill="#1212b4" filter="url(#b2)"/>
</g>
<g opacity="0.88"><g stroke="#94c8e0" stroke-width="3" stroke-linecap="round" stroke-opacity="0.9">
<line x1="114.8" y1="66.1" x2="100.4" y2="74.3"/>
<line x1="100.4" y1="74.3" x2="84.8" y2="66.6"/>
<line x1="84.8" y1="66.6" x2="70.4" y2="75.7"/>
<line x1="70.4" y1="75.7" x2="71.1" y2="92.3"/>
<line x1="71.1" y1="92.3" x2="86.0" y2="100.5"/>
<line x1="86.0" y1="100.5" x2="100.4" y2="91.8"/>
<line x1="100.4" y1="91.8" x2="100.4" y2="74.3"/>
<line x1="100.4" y1="91.8" x2="115.6" y2="100.0"/>
<line x1="115.6" y1="100.0" x2="130.4" y2="91.8"/>
<line x1="130.4" y1="91.8" x2="130.4" y2="74.3"/>
<line x1="130.4" y1="74.3" x2="114.8" y2="66.1"/>
<line x1="130.4" y1="74.3" x2="145.5" y2="66.1"/>
<line x1="145.5" y1="66.1" x2="159.2" y2="75.0"/>
<line x1="159.2" y1="75.0" x2="158.6" y2="91.8"/>
<line x1="158.6" y1="91.8" x2="144.8" y2="100.3"/>
<line x1="144.8" y1="100.3" x2="130.4" y2="91.8"/>
<line x1="84.8" y1="66.6" x2="84.0" y2="54.6"/>
<line x1="70.4" y1="75.7" x2="59.1" y2="69.0"/>
<line x1="71.1" y1="92.3" x2="59.1" y2="100.6"/>
<line x1="86.0" y1="100.5" x2="86.5" y2="114.0"/>
<line x1="115.6" y1="100.0" x2="115.6" y2="111.5"/>
<line x1="144.8" y1="100.3" x2="144.8" y2="111.7"/>
<line x1="145.5" y1="66.1" x2="146.0" y2="54.6"/>
<line x1="159.2" y1="75.0" x2="169.5" y2="68.5"/>
<line x1="158.6" y1="91.8" x2="168.0" y2="98.5"/>
<line x1="114.8" y1="66.1" x2="114.6" y2="47.8"/><line x1="114.6" y1="47.8" x2="127.5" y2="37.2" stroke="#b8a0b0"/><line x1="114.6" y1="47.8" x2="103.1" y2="41.5" stroke="#d0b8c0"/>
</g>
<circle cx="84.0" cy="54.6" r="3.4" fill="url(#gH1)"/>
<circle cx="59.1" cy="69.0" r="3.4" fill="url(#gH1)"/>
<circle cx="59.1" cy="100.6" r="3.4" fill="url(#gH1)"/>
<circle cx="86.5" cy="114.0" r="3.4" fill="url(#gH1)"/>
<circle cx="115.6" cy="111.5" r="3.4" fill="url(#gH1)"/>
<circle cx="144.8" cy="111.7" r="3.4" fill="url(#gH1)"/>
<circle cx="146.0" cy="54.6" r="3.4" fill="url(#gH1)"/>
<circle cx="169.5" cy="68.5" r="3.4" fill="url(#gH1)"/>
<circle cx="168.0" cy="98.5" r="3.4" fill="url(#gH1)"/>
<circle cx="103.1" cy="41.5" r="3" fill="url(#gH1p)"/>
<circle cx="127.5" cy="37.2" r="4" fill="url(#gO1)"/>
<circle cx="114.6" cy="47.8" r="4.6" fill="url(#gCO)"/>
<circle cx="114.8" cy="66.1" r="5.4" fill="url(#gC1)"/>
<circle cx="100.4" cy="74.3" r="5.4" fill="url(#gC1)"/>
<circle cx="84.8" cy="66.6" r="5.4" fill="url(#gC1)"/>
<circle cx="70.4" cy="75.7" r="5.4" fill="url(#gC1)"/>
<circle cx="71.1" cy="92.3" r="5.4" fill="url(#gC1)"/>
<circle cx="86.0" cy="100.5" r="5.4" fill="url(#gC1)"/>
<circle cx="100.4" cy="91.8" r="5.4" fill="url(#gC1)"/>
<circle cx="115.6" cy="100.0" r="5.4" fill="url(#gC1)"/>
<circle cx="130.4" cy="74.3" r="5.4" fill="url(#gC1)"/>
<circle cx="145.5" cy="66.1" r="5.4" fill="url(#gC1)"/>
<circle cx="159.2" cy="75.0" r="5.4" fill="url(#gC1)"/>
<circle cx="158.6" cy="91.8" r="5.4" fill="url(#gC1)"/>
<circle cx="144.8" cy="100.3" r="5.4" fill="url(#gC1)"/>
<circle cx="130.4" cy="91.8" r="5.4" fill="url(#gC1)"/>
</g>
<linearGradient id="gUL" gradientUnits="userSpaceOnUse" x1="38.75" y1="186.00" x2="87.25" y2="198.00"><stop offset="0.000" stop-color="#4646a6"/><stop offset="0.140" stop-color="#5a5ab0"/><stop offset="0.240" stop-color="#7a7abc"/><stop offset="0.320" stop-color="#9e9ecc"/><stop offset="0.400" stop-color="#c0bed6"/><stop offset="0.480" stop-color="#d2cad4"/><stop offset="0.550" stop-color="#dcb2b8"/><stop offset="0.610" stop-color="#e48e90"/><stop offset="0.680" stop-color="#e45c5c"/><stop offset="0.750" stop-color="#e03a3a"/><stop offset="0.840" stop-color="#dc1e1e"/><stop offset="1.000" stop-color="#da1818"/></linearGradient>
<linearGradient id="gLL" gradientUnits="userSpaceOnUse" x1="38.75" y1="256.00" x2="87.25" y2="244.00"><stop offset="0.000" stop-color="#4646a6"/><stop offset="0.140" stop-color="#5a5ab0"/><stop offset="0.240" stop-color="#7a7abc"/><stop offset="0.320" stop-color="#9e9ecc"/><stop offset="0.400" stop-color="#c0bed6"/><stop offset="0.480" stop-color="#d2cad4"/><stop offset="0.550" stop-color="#dcb2b8"/><stop offset="0.610" stop-color="#e48e90"/><stop offset="0.680" stop-color="#e45c5c"/><stop offset="0.750" stop-color="#e03a3a"/><stop offset="0.840" stop-color="#dc1e1e"/><stop offset="1.000" stop-color="#da1818"/></linearGradient>
<linearGradient id="gUR" gradientUnits="userSpaceOnUse" x1="188.25" y1="186.00" x2="139.75" y2="198.00"><stop offset="0.000" stop-color="#4646a6"/><stop offset="0.140" stop-color="#5a5ab0"/><stop offset="0.240" stop-color="#7a7abc"/><stop offset="0.320" stop-color="#9e9ecc"/><stop offset="0.400" stop-color="#c0bed6"/><stop offset="0.480" stop-color="#d2cad4"/><stop offset="0.550" stop-color="#dcb2b8"/><stop offset="0.610" stop-color="#e48e90"/><stop offset="0.680" stop-color="#e45c5c"/><stop offset="0.750" stop-color="#e03a3a"/><stop offset="0.840" stop-color="#dc1e1e"/><stop offset="1.000" stop-color="#da1818"/></linearGradient>
<linearGradient id="gLR" gradientUnits="userSpaceOnUse" x1="188.25" y1="256.00" x2="139.75" y2="244.00"><stop offset="0.000" stop-color="#4646a6"/><stop offset="0.140" stop-color="#5a5ab0"/><stop offset="0.240" stop-color="#7a7abc"/><stop offset="0.320" stop-color="#9e9ecc"/><stop offset="0.400" stop-color="#c0bed6"/><stop offset="0.480" stop-color="#d2cad4"/><stop offset="0.550" stop-color="#dcb2b8"/><stop offset="0.610" stop-color="#e48e90"/><stop offset="0.680" stop-color="#e45c5c"/><stop offset="0.750" stop-color="#e03a3a"/><stop offset="0.840" stop-color="#dc1e1e"/><stop offset="1.000" stop-color="#da1818"/></linearGradient>
<radialGradient id="ring" cx="0.5" cy="0.5" r="0.5"><stop offset="0.35" stop-color="#9090c4" stop-opacity="0"/><stop offset="0.6" stop-color="#7070b4" stop-opacity="0.7"/><stop offset="0.78" stop-color="#2c2c94"/><stop offset="1" stop-color="#0c0c66"/></radialGradient>
<linearGradient id="mLg" gradientUnits="userSpaceOnUse" x1="60" y1="0" x2="70" y2="0"><stop offset="0" stop-color="#fff"/><stop offset="1" stop-color="#000"/></linearGradient>
<linearGradient id="mRg" gradientUnits="userSpaceOnUse" x1="166" y1="0" x2="156" y2="0"><stop offset="0" stop-color="#fff"/><stop offset="1" stop-color="#000"/></linearGradient>
<mask id="mL" maskUnits="userSpaceOnUse" x="0" y="150" width="113" height="140"><rect x="0" y="150" width="113" height="140" fill="url(#mLg)"/></mask>
<mask id="mR" maskUnits="userSpaceOnUse" x="113" y="150" width="100" height="140"><rect x="113" y="150" width="100" height="140" fill="url(#mRg)"/></mask>
<g clip-path="url(#cm2)">
<path d="M40.5,188.8 C41.0,185.6 41.8,182.1 43.6,179.2 C45.4,176.3 48.4,173.3 51.3,171.5 C54.2,169.7 57.8,168.9 60.9,168.5 C64.0,168.1 66.9,168.2 70.0,168.8 C73.1,169.4 76.7,170.8 79.6,172.0 C82.5,173.2 85.2,175.1 87.6,176.0 C90.0,176.9 91.6,178.0 94.0,177.6 C96.4,177.2 99.0,174.8 101.9,173.6 C104.8,172.4 108.3,170.5 111.5,170.4 C114.7,170.3 117.9,171.6 121.1,172.8 C124.3,174.1 127.8,177.6 130.7,177.9 C133.6,178.2 135.5,175.8 138.7,174.4 C141.9,173.0 146.0,170.6 149.8,169.6 C153.6,168.6 157.9,168.5 161.5,168.5 C165.1,168.5 168.3,168.6 171.2,169.6 C174.1,170.6 176.6,172.3 178.8,174.6 C181.0,176.8 183.3,180.1 184.6,183.1 C185.9,186.1 186.5,189.5 186.5,192.7 C186.5,195.9 185.9,199.1 184.6,202.3 C183.3,205.5 181.2,208.9 178.8,211.9 C176.5,214.9 171.4,218.2 170.5,220.5 C169.6,222.8 171.5,223.3 173.1,225.4 C174.7,227.5 178.1,230.2 180.0,233.1 C181.9,236.0 183.7,239.5 184.6,242.7 C185.5,245.9 185.7,249.1 185.4,252.3 C185.1,255.5 184.1,259.2 182.7,261.9 C181.3,264.6 179.2,266.8 176.9,268.5 C174.7,270.2 172.1,271.7 169.2,272.3 C166.3,272.9 162.8,272.7 159.6,272.3 C156.4,271.9 153.8,270.8 150.0,269.8 C146.2,268.8 140.4,267.1 137.1,266.3 C133.8,265.5 132.6,264.4 129.9,264.8 C127.2,265.2 124.2,267.5 121.1,268.7 C118.0,269.9 114.7,272.0 111.5,271.9 C108.3,271.8 104.7,269.2 101.9,268.0 C99.1,266.8 97.2,264.9 94.8,264.8 C92.4,264.7 90.1,266.1 87.6,267.1 C85.1,268.2 82.2,270.2 79.6,271.1 C77.0,272.0 74.5,272.5 72.0,272.6 C69.5,272.8 67.6,272.5 64.8,272.0 C62.0,271.5 58.3,271.0 55.2,269.6 C52.1,268.2 48.5,266.4 46.3,263.8 C44.0,261.2 42.6,257.4 41.7,254.2 C40.8,251.0 40.4,247.8 40.9,244.6 C41.4,241.4 43.1,237.9 44.8,235.0 C46.5,232.1 49.3,229.6 51.3,227.3 C53.2,225.1 56.5,223.4 56.5,221.5 C56.5,219.6 53.2,218.0 51.3,215.8 C49.3,213.6 46.5,211.0 44.8,208.1 C43.1,205.2 41.6,201.7 40.9,198.5 C40.2,195.3 40.0,192.0 40.5,188.8Z" fill="#de1a1a"/>
<rect x="0" y="150" width="114.5" height="72.5" fill="url(#gUL)"/><rect x="0" y="221" width="114.5" height="70" fill="url(#gLL)"/>
<rect x="113" y="150" width="100" height="72.5" fill="url(#gUR)"/><rect x="113" y="221" width="100" height="70" fill="url(#gLR)"/>
<ellipse cx="90" cy="184" rx="14" ry="8" fill="#ec2e2e" filter="url(#b4)"/>
<ellipse cx="138" cy="184" rx="12" ry="7" fill="#e82828" filter="url(#b4)"/>
<ellipse cx="113" cy="228" rx="36" ry="26" fill="#d01010" filter="url(#b6)"/>
<ellipse cx="113" cy="178" rx="14" ry="6" fill="#ee2424" filter="url(#b3)"/>
<ellipse cx="82" cy="226" rx="9" ry="14" fill="#c20a0a" filter="url(#b4)"/>
<ellipse cx="144" cy="226" rx="9" ry="14" fill="#c20a0a" filter="url(#b4)"/>
<ellipse cx="113" cy="252" rx="22" ry="9" fill="#c80e0e" filter="url(#b4)"/>
<path d="M40.5,188.8 C41.0,185.6 41.8,182.1 43.6,179.2 C45.4,176.3 48.4,173.3 51.3,171.5 C54.2,169.7 57.8,168.9 60.9,168.5 C64.0,168.1 66.9,168.2 70.0,168.8 C73.1,169.4 76.7,170.8 79.6,172.0 C82.5,173.2 85.2,175.1 87.6,176.0 C90.0,176.9 91.6,178.0 94.0,177.6 C96.4,177.2 99.0,174.8 101.9,173.6 C104.8,172.4 108.3,170.5 111.5,170.4 C114.7,170.3 117.9,171.6 121.1,172.8 C124.3,174.1 127.8,177.6 130.7,177.9 C133.6,178.2 135.5,175.8 138.7,174.4 C141.9,173.0 146.0,170.6 149.8,169.6 C153.6,168.6 157.9,168.5 161.5,168.5 C165.1,168.5 168.3,168.6 171.2,169.6 C174.1,170.6 176.6,172.3 178.8,174.6 C181.0,176.8 183.3,180.1 184.6,183.1 C185.9,186.1 186.5,189.5 186.5,192.7 C186.5,195.9 185.9,199.1 184.6,202.3 C183.3,205.5 181.2,208.9 178.8,211.9 C176.5,214.9 171.4,218.2 170.5,220.5 C169.6,222.8 171.5,223.3 173.1,225.4 C174.7,227.5 178.1,230.2 180.0,233.1 C181.9,236.0 183.7,239.5 184.6,242.7 C185.5,245.9 185.7,249.1 185.4,252.3 C185.1,255.5 184.1,259.2 182.7,261.9 C181.3,264.6 179.2,266.8 176.9,268.5 C174.7,270.2 172.1,271.7 169.2,272.3 C166.3,272.9 162.8,272.7 159.6,272.3 C156.4,271.9 153.8,270.8 150.0,269.8 C146.2,268.8 140.4,267.1 137.1,266.3 C133.8,265.5 132.6,264.4 129.9,264.8 C127.2,265.2 124.2,267.5 121.1,268.7 C118.0,269.9 114.7,272.0 111.5,271.9 C108.3,271.8 104.7,269.2 101.9,268.0 C99.1,266.8 97.2,264.9 94.8,264.8 C92.4,264.7 90.1,266.1 87.6,267.1 C85.1,268.2 82.2,270.2 79.6,271.1 C77.0,272.0 74.5,272.5 72.0,272.6 C69.5,272.8 67.6,272.5 64.8,272.0 C62.0,271.5 58.3,271.0 55.2,269.6 C52.1,268.2 48.5,266.4 46.3,263.8 C44.0,261.2 42.6,257.4 41.7,254.2 C40.8,251.0 40.4,247.8 40.9,244.6 C41.4,241.4 43.1,237.9 44.8,235.0 C46.5,232.1 49.3,229.6 51.3,227.3 C53.2,225.1 56.5,223.4 56.5,221.5 C56.5,219.6 53.2,218.0 51.3,215.8 C49.3,213.6 46.5,211.0 44.8,208.1 C43.1,205.2 41.6,201.7 40.9,198.5 C40.2,195.3 40.0,192.0 40.5,188.8Z" fill="none" stroke="#b01010" stroke-opacity="0.45" stroke-width="4" filter="url(#b2)"/>
<g mask="url(#mL)">
<path d="M40.5,188.8 C41.0,185.6 41.8,182.1 43.6,179.2 C45.4,176.3 48.4,173.3 51.3,171.5 C54.2,169.7 57.8,168.9 60.9,168.5 C64.0,168.1 66.9,168.2 70.0,168.8 C73.1,169.4 76.7,170.8 79.6,172.0 C82.5,173.2 85.2,175.1 87.6,176.0 C90.0,176.9 91.6,178.0 94.0,177.6 C96.4,177.2 99.0,174.8 101.9,173.6 C104.8,172.4 108.3,170.5 111.5,170.4 C114.7,170.3 117.9,171.6 121.1,172.8 C124.3,174.1 127.8,177.6 130.7,177.9 C133.6,178.2 135.5,175.8 138.7,174.4 C141.9,173.0 146.0,170.6 149.8,169.6 C153.6,168.6 157.9,168.5 161.5,168.5 C165.1,168.5 168.3,168.6 171.2,169.6 C174.1,170.6 176.6,172.3 178.8,174.6 C181.0,176.8 183.3,180.1 184.6,183.1 C185.9,186.1 186.5,189.5 186.5,192.7 C186.5,195.9 185.9,199.1 184.6,202.3 C183.3,205.5 181.2,208.9 178.8,211.9 C176.5,214.9 171.4,218.2 170.5,220.5 C169.6,222.8 171.5,223.3 173.1,225.4 C174.7,227.5 178.1,230.2 180.0,233.1 C181.9,236.0 183.7,239.5 184.6,242.7 C185.5,245.9 185.7,249.1 185.4,252.3 C185.1,255.5 184.1,259.2 182.7,261.9 C181.3,264.6 179.2,266.8 176.9,268.5 C174.7,270.2 172.1,271.7 169.2,272.3 C166.3,272.9 162.8,272.7 159.6,272.3 C156.4,271.9 153.8,270.8 150.0,269.8 C146.2,268.8 140.4,267.1 137.1,266.3 C133.8,265.5 132.6,264.4 129.9,264.8 C127.2,265.2 124.2,267.5 121.1,268.7 C118.0,269.9 114.7,272.0 111.5,271.9 C108.3,271.8 104.7,269.2 101.9,268.0 C99.1,266.8 97.2,264.9 94.8,264.8 C92.4,264.7 90.1,266.1 87.6,267.1 C85.1,268.2 82.2,270.2 79.6,271.1 C77.0,272.0 74.5,272.5 72.0,272.6 C69.5,272.8 67.6,272.5 64.8,272.0 C62.0,271.5 58.3,271.0 55.2,269.6 C52.1,268.2 48.5,266.4 46.3,263.8 C44.0,261.2 42.6,257.4 41.7,254.2 C40.8,251.0 40.4,247.8 40.9,244.6 C41.4,241.4 43.1,237.9 44.8,235.0 C46.5,232.1 49.3,229.6 51.3,227.3 C53.2,225.1 56.5,223.4 56.5,221.5 C56.5,219.6 53.2,218.0 51.3,215.8 C49.3,213.6 46.5,211.0 44.8,208.1 C43.1,205.2 41.6,201.7 40.9,198.5 C40.2,195.3 40.0,192.0 40.5,188.8Z" fill="none" stroke="#5050ae" stroke-width="18" filter="url(#b3)"/>
<path d="M40.5,188.8 C41.0,185.6 41.8,182.1 43.6,179.2 C45.4,176.3 48.4,173.3 51.3,171.5 C54.2,169.7 57.8,168.9 60.9,168.5 C64.0,168.1 66.9,168.2 70.0,168.8 C73.1,169.4 76.7,170.8 79.6,172.0 C82.5,173.2 85.2,175.1 87.6,176.0 C90.0,176.9 91.6,178.0 94.0,177.6 C96.4,177.2 99.0,174.8 101.9,173.6 C104.8,172.4 108.3,170.5 111.5,170.4 C114.7,170.3 117.9,171.6 121.1,172.8 C124.3,174.1 127.8,177.6 130.7,177.9 C133.6,178.2 135.5,175.8 138.7,174.4 C141.9,173.0 146.0,170.6 149.8,169.6 C153.6,168.6 157.9,168.5 161.5,168.5 C165.1,168.5 168.3,168.6 171.2,169.6 C174.1,170.6 176.6,172.3 178.8,174.6 C181.0,176.8 183.3,180.1 184.6,183.1 C185.9,186.1 186.5,189.5 186.5,192.7 C186.5,195.9 185.9,199.1 184.6,202.3 C183.3,205.5 181.2,208.9 178.8,211.9 C176.5,214.9 171.4,218.2 170.5,220.5 C169.6,222.8 171.5,223.3 173.1,225.4 C174.7,227.5 178.1,230.2 180.0,233.1 C181.9,236.0 183.7,239.5 184.6,242.7 C185.5,245.9 185.7,249.1 185.4,252.3 C185.1,255.5 184.1,259.2 182.7,261.9 C181.3,264.6 179.2,266.8 176.9,268.5 C174.7,270.2 172.1,271.7 169.2,272.3 C166.3,272.9 162.8,272.7 159.6,272.3 C156.4,271.9 153.8,270.8 150.0,269.8 C146.2,268.8 140.4,267.1 137.1,266.3 C133.8,265.5 132.6,264.4 129.9,264.8 C127.2,265.2 124.2,267.5 121.1,268.7 C118.0,269.9 114.7,272.0 111.5,271.9 C108.3,271.8 104.7,269.2 101.9,268.0 C99.1,266.8 97.2,264.9 94.8,264.8 C92.4,264.7 90.1,266.1 87.6,267.1 C85.1,268.2 82.2,270.2 79.6,271.1 C77.0,272.0 74.5,272.5 72.0,272.6 C69.5,272.8 67.6,272.5 64.8,272.0 C62.0,271.5 58.3,271.0 55.2,269.6 C52.1,268.2 48.5,266.4 46.3,263.8 C44.0,261.2 42.6,257.4 41.7,254.2 C40.8,251.0 40.4,247.8 40.9,244.6 C41.4,241.4 43.1,237.9 44.8,235.0 C46.5,232.1 49.3,229.6 51.3,227.3 C53.2,225.1 56.5,223.4 56.5,221.5 C56.5,219.6 53.2,218.0 51.3,215.8 C49.3,213.6 46.5,211.0 44.8,208.1 C43.1,205.2 41.6,201.7 40.9,198.5 C40.2,195.3 40.0,192.0 40.5,188.8Z" fill="none" stroke="#1c1c90" stroke-width="3.6" filter="url(#b1)"/>
</g>
<g mask="url(#mR)">
<path d="M40.5,188.8 C41.0,185.6 41.8,182.1 43.6,179.2 C45.4,176.3 48.4,173.3 51.3,171.5 C54.2,169.7 57.8,168.9 60.9,168.5 C64.0,168.1 66.9,168.2 70.0,168.8 C73.1,169.4 76.7,170.8 79.6,172.0 C82.5,173.2 85.2,175.1 87.6,176.0 C90.0,176.9 91.6,178.0 94.0,177.6 C96.4,177.2 99.0,174.8 101.9,173.6 C104.8,172.4 108.3,170.5 111.5,170.4 C114.7,170.3 117.9,171.6 121.1,172.8 C124.3,174.1 127.8,177.6 130.7,177.9 C133.6,178.2 135.5,175.8 138.7,174.4 C141.9,173.0 146.0,170.6 149.8,169.6 C153.6,168.6 157.9,168.5 161.5,168.5 C165.1,168.5 168.3,168.6 171.2,169.6 C174.1,170.6 176.6,172.3 178.8,174.6 C181.0,176.8 183.3,180.1 184.6,183.1 C185.9,186.1 186.5,189.5 186.5,192.7 C186.5,195.9 185.9,199.1 184.6,202.3 C183.3,205.5 181.2,208.9 178.8,211.9 C176.5,214.9 171.4,218.2 170.5,220.5 C169.6,222.8 171.5,223.3 173.1,225.4 C174.7,227.5 178.1,230.2 180.0,233.1 C181.9,236.0 183.7,239.5 184.6,242.7 C185.5,245.9 185.7,249.1 185.4,252.3 C185.1,255.5 184.1,259.2 182.7,261.9 C181.3,264.6 179.2,266.8 176.9,268.5 C174.7,270.2 172.1,271.7 169.2,272.3 C166.3,272.9 162.8,272.7 159.6,272.3 C156.4,271.9 153.8,270.8 150.0,269.8 C146.2,268.8 140.4,267.1 137.1,266.3 C133.8,265.5 132.6,264.4 129.9,264.8 C127.2,265.2 124.2,267.5 121.1,268.7 C118.0,269.9 114.7,272.0 111.5,271.9 C108.3,271.8 104.7,269.2 101.9,268.0 C99.1,266.8 97.2,264.9 94.8,264.8 C92.4,264.7 90.1,266.1 87.6,267.1 C85.1,268.2 82.2,270.2 79.6,271.1 C77.0,272.0 74.5,272.5 72.0,272.6 C69.5,272.8 67.6,272.5 64.8,272.0 C62.0,271.5 58.3,271.0 55.2,269.6 C52.1,268.2 48.5,266.4 46.3,263.8 C44.0,261.2 42.6,257.4 41.7,254.2 C40.8,251.0 40.4,247.8 40.9,244.6 C41.4,241.4 43.1,237.9 44.8,235.0 C46.5,232.1 49.3,229.6 51.3,227.3 C53.2,225.1 56.5,223.4 56.5,221.5 C56.5,219.6 53.2,218.0 51.3,215.8 C49.3,213.6 46.5,211.0 44.8,208.1 C43.1,205.2 41.6,201.7 40.9,198.5 C40.2,195.3 40.0,192.0 40.5,188.8Z" fill="none" stroke="#5050ae" stroke-width="18" filter="url(#b3)"/>
<path d="M40.5,188.8 C41.0,185.6 41.8,182.1 43.6,179.2 C45.4,176.3 48.4,173.3 51.3,171.5 C54.2,169.7 57.8,168.9 60.9,168.5 C64.0,168.1 66.9,168.2 70.0,168.8 C73.1,169.4 76.7,170.8 79.6,172.0 C82.5,173.2 85.2,175.1 87.6,176.0 C90.0,176.9 91.6,178.0 94.0,177.6 C96.4,177.2 99.0,174.8 101.9,173.6 C104.8,172.4 108.3,170.5 111.5,170.4 C114.7,170.3 117.9,171.6 121.1,172.8 C124.3,174.1 127.8,177.6 130.7,177.9 C133.6,178.2 135.5,175.8 138.7,174.4 C141.9,173.0 146.0,170.6 149.8,169.6 C153.6,168.6 157.9,168.5 161.5,168.5 C165.1,168.5 168.3,168.6 171.2,169.6 C174.1,170.6 176.6,172.3 178.8,174.6 C181.0,176.8 183.3,180.1 184.6,183.1 C185.9,186.1 186.5,189.5 186.5,192.7 C186.5,195.9 185.9,199.1 184.6,202.3 C183.3,205.5 181.2,208.9 178.8,211.9 C176.5,214.9 171.4,218.2 170.5,220.5 C169.6,222.8 171.5,223.3 173.1,225.4 C174.7,227.5 178.1,230.2 180.0,233.1 C181.9,236.0 183.7,239.5 184.6,242.7 C185.5,245.9 185.7,249.1 185.4,252.3 C185.1,255.5 184.1,259.2 182.7,261.9 C181.3,264.6 179.2,266.8 176.9,268.5 C174.7,270.2 172.1,271.7 169.2,272.3 C166.3,272.9 162.8,272.7 159.6,272.3 C156.4,271.9 153.8,270.8 150.0,269.8 C146.2,268.8 140.4,267.1 137.1,266.3 C133.8,265.5 132.6,264.4 129.9,264.8 C127.2,265.2 124.2,267.5 121.1,268.7 C118.0,269.9 114.7,272.0 111.5,271.9 C108.3,271.8 104.7,269.2 101.9,268.0 C99.1,266.8 97.2,264.9 94.8,264.8 C92.4,264.7 90.1,266.1 87.6,267.1 C85.1,268.2 82.2,270.2 79.6,271.1 C77.0,272.0 74.5,272.5 72.0,272.6 C69.5,272.8 67.6,272.5 64.8,272.0 C62.0,271.5 58.3,271.0 55.2,269.6 C52.1,268.2 48.5,266.4 46.3,263.8 C44.0,261.2 42.6,257.4 41.7,254.2 C40.8,251.0 40.4,247.8 40.9,244.6 C41.4,241.4 43.1,237.9 44.8,235.0 C46.5,232.1 49.3,229.6 51.3,227.3 C53.2,225.1 56.5,223.4 56.5,221.5 C56.5,219.6 53.2,218.0 51.3,215.8 C49.3,213.6 46.5,211.0 44.8,208.1 C43.1,205.2 41.6,201.7 40.9,198.5 C40.2,195.3 40.0,192.0 40.5,188.8Z" fill="none" stroke="#1c1c90" stroke-width="3.6" filter="url(#b1)"/>
</g>
</g>
<g stroke="#a8686e" stroke-width="2.4" stroke-linecap="round">
<line x1="113.1" y1="202.6" x2="128.7" y2="212.0"/>
<line x1="128.7" y1="212.0" x2="128.7" y2="230.4"/>
<line x1="128.7" y1="230.4" x2="113.1" y2="239.4"/>
<line x1="113.1" y1="239.4" x2="96.9" y2="230.4"/>
<line x1="96.9" y1="230.4" x2="96.9" y2="212.0"/>
<line x1="96.9" y1="212.0" x2="113.1" y2="202.6"/>
<line x1="128.7" y1="212.0" x2="144.3" y2="202.2"/>
<line x1="144.3" y1="202.2" x2="157.4" y2="194.0"/>
<line x1="96.9" y1="212.0" x2="81.6" y2="202.2"/>
<line x1="81.6" y1="202.2" x2="67.9" y2="194.0"/>
<line x1="96.9" y1="230.4" x2="81.6" y2="240.2"/>
<line x1="81.6" y1="240.2" x2="67.9" y2="248.6"/>
<line x1="128.7" y1="230.4" x2="144.3" y2="240.2"/>
<line x1="144.3" y1="240.2" x2="157.2" y2="248.2"/>
<line x1="113.1" y1="202.6" x2="113.1" y2="188.2"/><line x1="113.1" y1="239.4" x2="113.1" y2="253.4"/>
</g>
<circle cx="113.1" cy="188.2" r="3" fill="url(#gH2)"/><circle cx="113.1" cy="253.4" r="3" fill="url(#gH2)"/>
<circle cx="157.4" cy="194.0" r="4.5" fill="url(#gN2)"/>
<circle cx="144.3" cy="202.2" r="5.2" fill="url(#gC2)"/>
<circle cx="67.9" cy="194.0" r="4.5" fill="url(#gN2)"/>
<circle cx="81.6" cy="202.2" r="5.2" fill="url(#gC2)"/>
<circle cx="67.9" cy="248.6" r="4.5" fill="url(#gN2)"/>
<circle cx="81.6" cy="240.2" r="5.2" fill="url(#gC2)"/>
<circle cx="157.2" cy="248.2" r="4.5" fill="url(#gN2)"/>
<circle cx="144.3" cy="240.2" r="5.2" fill="url(#gC2)"/>
<circle cx="113.1" cy="202.6" r="5.4" fill="url(#gC2)"/>
<circle cx="128.7" cy="212.0" r="5.4" fill="url(#gC2)"/>
<circle cx="128.7" cy="230.4" r="5.4" fill="url(#gC2)"/>
<circle cx="113.1" cy="239.4" r="5.4" fill="url(#gC2)"/>
<circle cx="96.9" cy="230.4" r="5.4" fill="url(#gC2)"/>
<circle cx="96.9" cy="212.0" r="5.4" fill="url(#gC2)"/>
<text x="4.6" y="24.0" font-family='"Liberation Sans", Arial, Helvetica, sans-serif' font-size="22.5" fill="#111" stroke="#111" stroke-width="0.25">(a)</text>
<text x="206.6" y="24.0" font-family='"Liberation Sans", Arial, Helvetica, sans-serif' font-size="22.5" fill="#111" stroke="#111" stroke-width="0.25">(b)</text>
<g fill="none" stroke-linejoin="round" stroke-linecap="round">
<polyline points="251.0,50.2 256.5,50.5 261.0,50.3 266.4,50.5 272.0,50.3 277.3,50.4 282.7,50.4 286.0,50.6 287.1,53.1 288.0,59.1 289.1,54.2 290.1,53.3 292.0,54.2 293.4,58.0 294.2,66.2 295.0,59.1 295.8,56.4 298.0,55.3 302.4,55.3 306.7,55.1 309.3,56.5 311.5,55.6 314.7,55.4 316.4,55.9 317.5,58.6 319.1,57.9 320.7,58.1 324.0,56.1 330.5,55.7 338.2,55.6 345.8,55.7 349.1,56.5 354.5,56.5 361.5,56.8 367.0,56.2 368.3,57.0 369.2,61.4 370.3,58.1 372.5,57.0 376.8,56.2 382.3,57.2 389.9,55.9 393.2,56.5 396.5,58.1 400.8,57.9 405.2,57.9 407.9,59.2 409.5,60.8 411.2,58.1 412.1,58.3 414.2,57.7 416.3,56.3 418.8,54.6 420.8,48.8 421.5,56.7 422.1,81.7 422.6,99.4 423.5,90.0 424.6,71.2 425.6,66.5 426.7,68.7 427.7,66.0 428.8,65.1 429.8,63.7 430.5,62.2 431.5,64.4 432.5,59.4 433.3,58.6 434.3,75.1 435.3,60.8 436.5,63.7 437.6,57.9 438.6,56.5 439.4,57.9 440.1,75.1 441.1,65.1 442.2,60.8 443.4,58.6 444.4,62.2 445.5,68.0 446.5,70.1 447.7,63.7 448.7,61.5 450.1,65.1 451.0,68.1 452.3,60.4 453.5,64.2 454.8,59.4 455.8,66.2 457.7,55.6 458.7,58.5 460.0,56.5 461.2,66.2 462.1,70.0 462.7,81.5 463.5,71.9 464.4,66.2 465.4,62.3 466.3,59.4 467.3,58.5 468.3,64.2 469.2,68.1 470.2,61.3 471.2,68.1 472.1,61.3 473.5,60.4 475.0,59.4 476.8,56.8 478.4,54.6 479.5,52.3 480.6,60.1 481.7,83.7 482.8,73.6 484.0,64.6 485.1,61.3 486.2,62.4 487.3,59.0 488.9,61.3 490.7,56.8 492.2,55.7 493.4,64.6 494.5,82.5 495.6,69.1 496.7,56.8 497.8,76.9 499.2,66.9 500.4,62.0 501.3,58.1 503.1,55.6 505.1,54.3 507.2,63.2 508.2,55.6 509.5,58.1 510.7,97.8 512.0,73.5 513.3,81.1 514.6,63.2 515.9,60.7 517.1,55.6 518.4,58.1 519.9,54.3 521.7,53.0 522.5,50.5 523.8,69.6 525.1,53.0 526.8,50.5 528.6,49.2 530.2,50.5 531.2,65.8 532.5,93.9 533.8,65.8 535.0,60.7 535.8,70.9 537.1,55.6 538.4,54.3 539.6,54.3 541.0,49.2" stroke="#d7142a" stroke-width="1.55"/>
<polyline points="251.0,126.6 260.9,126.6 271.8,126.4 282.7,126.4 285.5,126.6 286.5,128.5 287.6,140.0 288.7,130.7 290.4,128.5 292.0,129.1 293.1,131.8 294.0,143.0 295.3,131.8 296.9,130.2 300.2,129.4 306.5,128.9 316.4,129.2 320.7,129.7 322.1,131.4 323.5,129.7 332.7,129.5 343.6,129.7 349.6,130.3 350.4,131.6 351.8,131.0 355.0,130.7 362.7,130.3 366.9,129.8 368.0,132.3 368.8,143.0 369.6,133.2 371.3,131.3 383.8,131.3 393.3,131.3 404.8,131.7 407.7,132.3 409.6,135.1 411.5,133.2 413.8,133.2 417.7,132.3 421.5,131.3 425.3,130.3 429.2,130.0 434.9,130.0 438.8,129.4 439.7,130.3 440.4,150.8 441.1,134.2 442.6,131.3 445.5,130.3 447.4,131.3 449.3,138.0 450.6,133.2 452.2,131.3 456.0,130.3 458.9,129.4 459.8,134.2 460.4,153.3 461.4,139.9 462.3,136.1 463.7,133.2 465.6,132.3 470.8,130.7 479.4,130.1 485.1,129.6 490.9,128.7 492.3,130.1 493.2,153.2 494.1,171.9 495.2,150.3 496.7,137.3 499.5,133.0 504.3,131.9 507.2,131.6 508.7,133.1 509.2,145.2 510.1,134.5 513.0,130.8 514.4,132.5 515.9,130.2 518.8,130.2 520.2,133.1 521.6,129.6 526.0,128.7 530.3,127.3 531.2,130.2 532.3,153.3 533.0,190.5 534.0,161.9 534.6,138.8 535.5,137.4 536.3,157.6 537.2,138.8 538.4,131.6 540.4,127.3 541.3,125.9" stroke="#1a64dc" stroke-width="1.55"/>
<polyline points="251.0,193.5 257.7,194.1 269.1,195.2 281.9,196.1 287.6,196.5 290.9,197.5 293.6,199.2 295.8,199.2 299.6,198.6 308.9,199.4 311.1,201.6 312.7,201.4 314.9,200.6 317.6,201.4 319.3,204.1 321.5,202.2 325.8,201.7 332.4,201.7 335.0,201.8 343.7,202.2 351.4,203.1 359.0,204.2 367.7,204.0 376.5,203.6 383.0,205.3 388.5,204.4 393.8,204.5 399.6,206.4 405.3,205.5 411.1,206.4 413.9,204.5 416.8,202.6 419.1,199.1 420.6,195.3 421.6,190.5 422.3,203.0 423.3,225.9 424.0,238.6 424.8,229.8 425.4,218.7 426.3,216.8 427.3,219.7 428.2,214.9 429.6,213.0 430.5,212.0 431.5,209.1 432.4,210.1 433.4,209.1 434.0,222.6 434.7,213.0 435.7,211.1 436.5,219.7 437.2,211.1 438.2,212.0 439.1,210.1 440.1,213.0 441.4,209.1 442.6,208.2 443.4,211.1 444.5,218.7 445.5,213.9 446.8,213.0 448.3,213.9 449.7,212.0 451.6,211.1 453.5,210.1 454.9,212.0 456.4,209.1 457.9,208.2 459.3,206.3 460.6,203.4 461.4,199.5 462.1,210.0 462.9,220.9 464.1,211.3 465.3,207.7 466.7,205.3 468.4,208.9 469.6,211.3 470.8,219.7 472.0,212.5 473.2,210.1 474.8,207.7 476.8,206.5 478.7,203.0 480.3,199.4 481.1,213.7 481.8,228.1 482.7,220.9 483.9,213.7 485.1,210.1 486.8,207.7 488.7,206.5 490.6,204.1 492.3,207.7 493.5,203.0 494.7,200.6 495.4,211.3 496.4,220.9 497.1,210.1 497.8,218.5 498.8,212.5 499.5,218.5 500.7,208.9 501.9,205.3 503.5,204.0 505.0,200.6 506.2,202.9 507.3,198.4 508.4,202.9 509.5,192.8 510.6,207.3 511.3,229.6 511.8,250.5 512.9,240.8 514.0,225.2 515.5,218.5 516.9,214.0 518.0,210.7 519.1,211.8 520.2,208.4 521.3,210.7 522.2,202.9 523.3,197.3 524.0,207.3 524.5,220.7 525.4,207.3 526.3,201.7 527.6,198.4 528.9,196.2 530.3,195.0 531.2,202.9 532.3,216.3 533.0,233.0 534.1,218.5 535.2,207.3 537.0,202.9 538.5,199.5 539.6,197.3 540.8,193.9 541.4,192.8" stroke="#000" stroke-width="1.55"/>
</g>
<rect x="283.7" y="53.5" width="7.5" height="34.0" fill="#f2c400" fill-opacity="0.45"/>
<rect x="292.5" y="59.0" width="7.9" height="33.7" fill="#f2c400" fill-opacity="0.45"/>
<rect x="364.9" y="57.5" width="7.9" height="32.9" fill="#f2c400" fill-opacity="0.45"/>
<rect x="436.3" y="70.0" width="8.2" height="33.8" fill="#f2c400" fill-opacity="0.45"/>
<rect x="282.2" y="133.5" width="8.0" height="34.3" fill="#f2c400" fill-opacity="0.45"/>
<rect x="291.8" y="136.7" width="7.7" height="33.9" fill="#f2c400" fill-opacity="0.45"/>
<rect x="365.2" y="136.9" width="8.0" height="33.7" fill="#f2c400" fill-opacity="0.45"/>
<rect x="436.7" y="143.9" width="8.2" height="33.1" fill="#f2c400" fill-opacity="0.45"/>
<text transform="translate(290.9 85.8) rotate(-90)" font-family='"Liberation Sans", Arial, Helvetica, sans-serif' font-weight="bold" font-size="10" fill="#000" stroke="#000" stroke-width="0.35">3102</text>
<text transform="translate(300.4 91.5) rotate(-90)" font-family='"Liberation Sans", Arial, Helvetica, sans-serif' font-weight="bold" font-size="10" fill="#000" stroke="#000" stroke-width="0.35">3035</text>
<text transform="translate(372.3 88.9) rotate(-90)" font-family='"Liberation Sans", Arial, Helvetica, sans-serif' font-weight="bold" font-size="10" fill="#000" stroke="#000" stroke-width="0.35">2237</text>
<text transform="translate(443.9 100.8) rotate(-90)" font-family='"Liberation Sans", Arial, Helvetica, sans-serif' font-weight="bold" font-size="10" fill="#000" stroke="#000" stroke-width="0.35">1488</text>
<text transform="translate(289.9 165.8) rotate(-90)" font-family='"Liberation Sans", Arial, Helvetica, sans-serif' font-weight="bold" font-size="10" fill="#000" stroke="#000" stroke-width="0.35">3113</text>
<text transform="translate(299.3 168.7) rotate(-90)" font-family='"Liberation Sans", Arial, Helvetica, sans-serif' font-weight="bold" font-size="10" fill="#000" stroke="#000" stroke-width="0.35">3050</text>
<text transform="translate(373.1 168.6) rotate(-90)" font-family='"Liberation Sans", Arial, Helvetica, sans-serif' font-weight="bold" font-size="10" fill="#000" stroke="#000" stroke-width="0.35">2243</text>
<text transform="translate(444.7 175.8) rotate(-90)" font-family='"Liberation Sans", Arial, Helvetica, sans-serif' font-weight="bold" font-size="10" fill="#000" stroke="#000" stroke-width="0.35">1482</text>
<rect x="250.7" y="26" width="290.9" height="234.9" fill="none" stroke="#2a2a2a" stroke-width="1.4"/>
<text x="250.9" y="277.5" text-anchor="middle" font-family='"Liberation Sans", Arial, Helvetica, sans-serif' font-size="15" fill="#111" stroke="#111" stroke-width="0.2">3500</text>
<line x1="298.0" y1="260.9" x2="298.0" y2="256.4" stroke="#2a2a2a" stroke-width="1.3"/>
<text x="298.0" y="277.5" text-anchor="middle" font-family='"Liberation Sans", Arial, Helvetica, sans-serif' font-size="15" fill="#111" stroke="#111" stroke-width="0.2">3000</text>
<line x1="345.1" y1="260.9" x2="345.1" y2="256.4" stroke="#2a2a2a" stroke-width="1.3"/>
<text x="345.1" y="277.5" text-anchor="middle" font-family='"Liberation Sans", Arial, Helvetica, sans-serif' font-size="15" fill="#111" stroke="#111" stroke-width="0.2">2500</text>
<line x1="392.2" y1="260.9" x2="392.2" y2="256.4" stroke="#2a2a2a" stroke-width="1.3"/>
<text x="392.2" y="277.5" text-anchor="middle" font-family='"Liberation Sans", Arial, Helvetica, sans-serif' font-size="15" fill="#111" stroke="#111" stroke-width="0.2">2000</text>
<line x1="439.2" y1="260.9" x2="439.2" y2="256.4" stroke="#2a2a2a" stroke-width="1.3"/>
<text x="439.2" y="277.5" text-anchor="middle" font-family='"Liberation Sans", Arial, Helvetica, sans-serif' font-size="15" fill="#111" stroke="#111" stroke-width="0.2">1500</text>
<line x1="486.3" y1="260.9" x2="486.3" y2="256.4" stroke="#2a2a2a" stroke-width="1.3"/>
<text x="486.3" y="277.5" text-anchor="middle" font-family='"Liberation Sans", Arial, Helvetica, sans-serif' font-size="15" fill="#111" stroke="#111" stroke-width="0.2">1000</text>
<line x1="533.4" y1="260.9" x2="533.4" y2="256.4" stroke="#2a2a2a" stroke-width="1.3"/>
<text x="533.4" y="277.5" text-anchor="middle" font-family='"Liberation Sans", Arial, Helvetica, sans-serif' font-size="15" fill="#111" stroke="#111" stroke-width="0.2">500</text>
<text x="321" y="298.2" font-family='"Liberation Sans", Arial, Helvetica, sans-serif' font-size="15.6" fill="#111" stroke="#111" stroke-width="0.2">Wavenumbers/(cm<tspan x="450.8" dy="-5.1" font-size="16.5">−</tspan><tspan x="462" dy="-0.7" font-size="9">1</tspan><tspan x="467.8" dy="5.8">)</tspan></text>
<text transform="translate(240.4 213.6) rotate(-90)" font-family='"Liberation Sans", Arial, Helvetica, sans-serif' font-size="15.7" fill="#111" stroke="#111" stroke-width="0.2">Transmittance (a.u.)</text>
<text x="254" y="46.3" font-family='"Liberation Sans", Arial, Helvetica, sans-serif' font-size="14.5" fill="#111" stroke="#111" stroke-width="0.25">AA-TCNB</text>
<text x="254" y="122.8" font-family='"Liberation Sans", Arial, Helvetica, sans-serif' font-size="14.5" fill="#111" stroke="#111" stroke-width="0.25">TCNB</text>
<text x="253.5" y="188.8" font-family='"Liberation Sans", Arial, Helvetica, sans-serif' font-size="14.5" fill="#111" stroke="#111" stroke-width="0.25">9-AA</text>
</svg>
</body></html>
